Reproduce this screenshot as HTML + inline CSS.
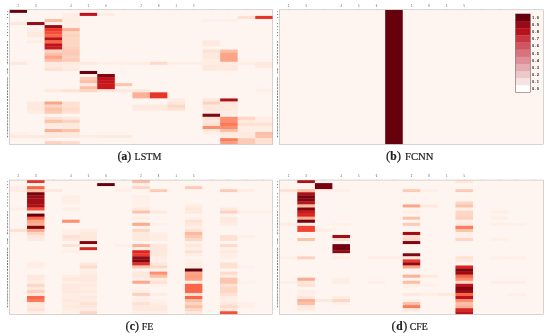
<!DOCTYPE html><html><head><meta charset="utf-8"><title>Heatmaps</title><style>html,body{margin:0;padding:0;background:#fff}svg{display:block}text{font-family:"Liberation Sans",sans-serif}.cap{font-family:"Liberation Serif",serif;font-size:11.5px;fill:#1c1c1c;stroke:#1c1c1c;stroke-width:0.2px}.cs{font-size:9.6px}.pp{font-size:12.8px}.bl{font-weight:bold;font-size:11.5px}.tk{font-size:2.7px;fill:#555}.tl{font-size:2.1px;fill:#222;font-weight:bold}</style></head><body>
<svg width="550" height="336" viewBox="0 0 550 336">
<rect width="550" height="336" fill="#fff"/>
<defs><clipPath id="cla"><rect x="9.5" y="9.8" width="263.30" height="134.50"/></clipPath></defs>
<g clip-path="url(#cla)">
<rect x="9.5" y="9.8" width="263.30" height="134.50" fill="#fff2eb"/>
<rect x="9.50" y="9.80" width="17.85" height="3.36" fill="#67000d"/>
<rect x="9.50" y="12.86" width="17.85" height="9.47" fill="#fff5f0"/>
<rect x="9.50" y="22.03" width="17.85" height="3.36" fill="#fee7dc"/>
<rect x="9.50" y="25.08" width="17.85" height="36.98" fill="#fff5f0"/>
<rect x="9.50" y="61.77" width="17.85" height="3.36" fill="#fee7dc"/>
<rect x="9.50" y="64.82" width="17.85" height="67.55" fill="#fff5f0"/>
<rect x="9.50" y="132.07" width="17.85" height="3.36" fill="#ffefe8"/>
<rect x="9.50" y="135.13" width="17.85" height="3.36" fill="#fee9df"/>
<rect x="9.50" y="138.19" width="17.85" height="6.41" fill="#fff5f0"/>
<rect x="27.05" y="9.80" width="17.85" height="12.53" fill="#fff5f0"/>
<rect x="27.05" y="22.03" width="17.85" height="3.36" fill="#990c13"/>
<rect x="27.05" y="25.08" width="17.85" height="3.36" fill="#fff5f0"/>
<rect x="27.05" y="28.14" width="17.85" height="3.36" fill="#ffefe8"/>
<rect x="27.05" y="31.20" width="17.85" height="6.41" fill="#fee9df"/>
<rect x="27.05" y="37.31" width="17.85" height="3.36" fill="#fff5f0"/>
<rect x="27.05" y="40.37" width="17.85" height="3.36" fill="#ffede4"/>
<rect x="27.05" y="43.42" width="17.85" height="58.38" fill="#fff5f0"/>
<rect x="27.05" y="101.50" width="17.85" height="9.47" fill="#fee9df"/>
<rect x="27.05" y="110.67" width="17.85" height="3.36" fill="#ffece3"/>
<rect x="27.05" y="113.73" width="17.85" height="21.70" fill="#fff5f0"/>
<rect x="27.05" y="135.13" width="17.85" height="3.36" fill="#fee9df"/>
<rect x="27.05" y="138.19" width="17.85" height="6.41" fill="#fff5f0"/>
<rect x="44.61" y="9.80" width="17.85" height="9.47" fill="#fff5f0"/>
<rect x="44.61" y="18.97" width="17.85" height="3.36" fill="#fcbea5"/>
<rect x="44.61" y="22.03" width="17.85" height="3.36" fill="#fff5f0"/>
<rect x="44.61" y="25.08" width="17.85" height="3.36" fill="#990c13"/>
<rect x="44.61" y="28.14" width="17.85" height="3.36" fill="#ec382b"/>
<rect x="44.61" y="31.20" width="17.85" height="3.36" fill="#f44f38"/>
<rect x="44.61" y="34.25" width="17.85" height="3.36" fill="#fa6648"/>
<rect x="44.61" y="37.31" width="17.85" height="3.36" fill="#bc141a"/>
<rect x="44.61" y="40.37" width="17.85" height="3.36" fill="#fa6648"/>
<rect x="44.61" y="43.42" width="17.85" height="3.36" fill="#bc141a"/>
<rect x="44.61" y="46.48" width="17.85" height="3.36" fill="#cb181d"/>
<rect x="44.61" y="49.54" width="17.85" height="3.36" fill="#fdd6c4"/>
<rect x="44.61" y="52.60" width="17.85" height="3.36" fill="#fcbea5"/>
<rect x="44.61" y="55.65" width="17.85" height="3.36" fill="#fca487"/>
<rect x="44.61" y="58.71" width="17.85" height="3.36" fill="#fcbea5"/>
<rect x="44.61" y="61.77" width="17.85" height="3.36" fill="#fee9df"/>
<rect x="44.61" y="64.82" width="17.85" height="3.36" fill="#fee7dc"/>
<rect x="44.61" y="67.88" width="17.85" height="3.36" fill="#fee1d3"/>
<rect x="44.61" y="70.94" width="17.85" height="18.64" fill="#fff5f0"/>
<rect x="44.61" y="89.28" width="17.85" height="3.36" fill="#fee9df"/>
<rect x="44.61" y="92.33" width="17.85" height="9.47" fill="#fff5f0"/>
<rect x="44.61" y="101.50" width="17.85" height="3.36" fill="#fca487"/>
<rect x="44.61" y="104.56" width="17.85" height="3.36" fill="#fdd6c4"/>
<rect x="44.61" y="107.62" width="17.85" height="3.36" fill="#fcc3ab"/>
<rect x="44.61" y="110.67" width="17.85" height="3.36" fill="#fdcab5"/>
<rect x="44.61" y="113.73" width="17.85" height="3.36" fill="#fff5f0"/>
<rect x="44.61" y="116.79" width="17.85" height="3.36" fill="#fee1d3"/>
<rect x="44.61" y="119.85" width="17.85" height="3.36" fill="#fcc3ab"/>
<rect x="44.61" y="122.90" width="17.85" height="3.36" fill="#fee9df"/>
<rect x="44.61" y="125.96" width="17.85" height="3.36" fill="#ffece3"/>
<rect x="44.61" y="129.02" width="17.85" height="3.36" fill="#fcb196"/>
<rect x="44.61" y="132.07" width="17.85" height="3.36" fill="#fee9df"/>
<rect x="44.61" y="135.13" width="17.85" height="3.36" fill="#fee7dc"/>
<rect x="44.61" y="138.19" width="17.85" height="3.36" fill="#fff5f0"/>
<rect x="44.61" y="141.24" width="17.85" height="3.36" fill="#fdd1be"/>
<rect x="62.16" y="9.80" width="17.85" height="3.36" fill="#fff5f0"/>
<rect x="62.16" y="12.86" width="17.85" height="6.41" fill="#ffeee6"/>
<rect x="62.16" y="18.97" width="17.85" height="3.36" fill="#ffede4"/>
<rect x="62.16" y="22.03" width="17.85" height="3.36" fill="#ffefe8"/>
<rect x="62.16" y="25.08" width="17.85" height="3.36" fill="#ffece3"/>
<rect x="62.16" y="28.14" width="17.85" height="3.36" fill="#fcb196"/>
<rect x="62.16" y="31.20" width="17.85" height="3.36" fill="#fdd6c4"/>
<rect x="62.16" y="34.25" width="17.85" height="3.36" fill="#fdd1be"/>
<rect x="62.16" y="37.31" width="17.85" height="9.47" fill="#fdd6c4"/>
<rect x="62.16" y="46.48" width="17.85" height="3.36" fill="#fdd1be"/>
<rect x="62.16" y="49.54" width="17.85" height="6.41" fill="#fdcab5"/>
<rect x="62.16" y="55.65" width="17.85" height="3.36" fill="#fdd1be"/>
<rect x="62.16" y="58.71" width="17.85" height="3.36" fill="#fdcab5"/>
<rect x="62.16" y="61.77" width="17.85" height="3.36" fill="#fee9df"/>
<rect x="62.16" y="64.82" width="17.85" height="3.36" fill="#ffece3"/>
<rect x="62.16" y="67.88" width="17.85" height="3.36" fill="#fee9df"/>
<rect x="62.16" y="70.94" width="17.85" height="18.64" fill="#fff5f0"/>
<rect x="62.16" y="89.28" width="17.85" height="3.36" fill="#fee1d3"/>
<rect x="62.16" y="92.33" width="17.85" height="9.47" fill="#fff5f0"/>
<rect x="62.16" y="101.50" width="17.85" height="6.41" fill="#fee1d3"/>
<rect x="62.16" y="107.62" width="17.85" height="3.36" fill="#fedacb"/>
<rect x="62.16" y="110.67" width="17.85" height="3.36" fill="#fee1d3"/>
<rect x="62.16" y="113.73" width="17.85" height="3.36" fill="#fff5f0"/>
<rect x="62.16" y="116.79" width="17.85" height="3.36" fill="#fee7dc"/>
<rect x="62.16" y="119.85" width="17.85" height="3.36" fill="#fdd1be"/>
<rect x="62.16" y="122.90" width="17.85" height="3.36" fill="#fee7dc"/>
<rect x="62.16" y="125.96" width="17.85" height="3.36" fill="#fee9df"/>
<rect x="62.16" y="129.02" width="17.85" height="3.36" fill="#fcc3ab"/>
<rect x="62.16" y="132.07" width="17.85" height="6.41" fill="#fee9df"/>
<rect x="62.16" y="138.19" width="17.85" height="3.36" fill="#fff5f0"/>
<rect x="62.16" y="141.24" width="17.85" height="3.36" fill="#fedacb"/>
<rect x="79.71" y="9.80" width="17.85" height="3.36" fill="#fff5f0"/>
<rect x="79.71" y="12.86" width="17.85" height="3.36" fill="#bc141a"/>
<rect x="79.71" y="15.91" width="17.85" height="46.15" fill="#fff5f0"/>
<rect x="79.71" y="61.77" width="17.85" height="3.36" fill="#fee9df"/>
<rect x="79.71" y="64.82" width="17.85" height="6.41" fill="#fff5f0"/>
<rect x="79.71" y="70.94" width="17.85" height="3.36" fill="#67000d"/>
<rect x="79.71" y="73.99" width="17.85" height="3.36" fill="#ffefe8"/>
<rect x="79.71" y="77.05" width="17.85" height="3.36" fill="#fdcab5"/>
<rect x="79.71" y="80.11" width="17.85" height="3.36" fill="#fcbea5"/>
<rect x="79.71" y="83.16" width="17.85" height="3.36" fill="#fee9df"/>
<rect x="79.71" y="86.22" width="17.85" height="3.36" fill="#fcbea5"/>
<rect x="79.71" y="89.28" width="17.85" height="3.36" fill="#fdd6c4"/>
<rect x="79.71" y="92.33" width="17.85" height="43.10" fill="#fff5f0"/>
<rect x="79.71" y="135.13" width="17.85" height="3.36" fill="#ffece3"/>
<rect x="79.71" y="138.19" width="17.85" height="6.41" fill="#fff5f0"/>
<rect x="97.27" y="9.80" width="17.85" height="3.36" fill="#fff5f0"/>
<rect x="97.27" y="12.86" width="17.85" height="3.36" fill="#ffece3"/>
<rect x="97.27" y="15.91" width="17.85" height="46.15" fill="#fff5f0"/>
<rect x="97.27" y="61.77" width="17.85" height="3.36" fill="#ffeee6"/>
<rect x="97.27" y="64.82" width="17.85" height="9.47" fill="#fff5f0"/>
<rect x="97.27" y="73.99" width="17.85" height="3.36" fill="#800610"/>
<rect x="97.27" y="77.05" width="17.85" height="3.36" fill="#bc141a"/>
<rect x="97.27" y="80.11" width="17.85" height="3.36" fill="#c2161b"/>
<rect x="97.27" y="83.16" width="17.85" height="6.41" fill="#cb181d"/>
<rect x="97.27" y="89.28" width="17.85" height="3.36" fill="#fee7dc"/>
<rect x="97.27" y="92.33" width="17.85" height="43.10" fill="#fff5f0"/>
<rect x="97.27" y="135.13" width="17.85" height="3.36" fill="#fee9df"/>
<rect x="97.27" y="138.19" width="17.85" height="6.41" fill="#fff5f0"/>
<rect x="114.82" y="9.80" width="17.85" height="52.27" fill="#fff5f0"/>
<rect x="114.82" y="61.77" width="17.85" height="3.36" fill="#ffeee6"/>
<rect x="114.82" y="64.82" width="17.85" height="18.64" fill="#fff5f0"/>
<rect x="114.82" y="83.16" width="17.85" height="3.36" fill="#fdc5ae"/>
<rect x="114.82" y="86.22" width="17.85" height="3.36" fill="#fff5f0"/>
<rect x="114.82" y="89.28" width="17.85" height="3.36" fill="#fee7dc"/>
<rect x="114.82" y="92.33" width="17.85" height="43.10" fill="#fff5f0"/>
<rect x="114.82" y="135.13" width="17.85" height="3.36" fill="#fee9df"/>
<rect x="114.82" y="138.19" width="17.85" height="6.41" fill="#fff5f0"/>
<rect x="132.37" y="9.80" width="17.85" height="52.27" fill="#fff5f0"/>
<rect x="132.37" y="61.77" width="17.85" height="3.36" fill="#ffece3"/>
<rect x="132.37" y="64.82" width="17.85" height="24.75" fill="#fff5f0"/>
<rect x="132.37" y="89.28" width="17.85" height="3.36" fill="#fee7dc"/>
<rect x="132.37" y="92.33" width="17.85" height="6.41" fill="#fcb196"/>
<rect x="132.37" y="98.45" width="17.85" height="6.41" fill="#fff5f0"/>
<rect x="132.37" y="104.56" width="17.85" height="6.41" fill="#fee9df"/>
<rect x="132.37" y="110.67" width="17.85" height="33.92" fill="#fff5f0"/>
<rect x="149.93" y="9.80" width="17.85" height="52.27" fill="#fff5f0"/>
<rect x="149.93" y="61.77" width="17.85" height="3.36" fill="#fedacb"/>
<rect x="149.93" y="64.82" width="17.85" height="27.81" fill="#fff5f0"/>
<rect x="149.93" y="92.33" width="17.85" height="6.41" fill="#e83429"/>
<rect x="149.93" y="98.45" width="17.85" height="6.41" fill="#fff5f0"/>
<rect x="149.93" y="104.56" width="17.85" height="6.41" fill="#fee9df"/>
<rect x="149.93" y="110.67" width="17.85" height="33.92" fill="#fff5f0"/>
<rect x="167.48" y="9.80" width="17.85" height="52.27" fill="#fff5f0"/>
<rect x="167.48" y="61.77" width="17.85" height="3.36" fill="#ffeee6"/>
<rect x="167.48" y="64.82" width="17.85" height="33.92" fill="#fff5f0"/>
<rect x="167.48" y="98.45" width="17.85" height="3.36" fill="#ffece3"/>
<rect x="167.48" y="101.50" width="17.85" height="3.36" fill="#fee7dc"/>
<rect x="167.48" y="104.56" width="17.85" height="3.36" fill="#fdd6c4"/>
<rect x="167.48" y="107.62" width="17.85" height="3.36" fill="#fee1d3"/>
<rect x="167.48" y="110.67" width="17.85" height="33.92" fill="#fff5f0"/>
<rect x="185.03" y="9.80" width="17.85" height="52.27" fill="#fff5f0"/>
<rect x="185.03" y="61.77" width="17.85" height="3.36" fill="#ffeee6"/>
<rect x="185.03" y="64.82" width="17.85" height="79.78" fill="#fff5f0"/>
<rect x="202.59" y="9.80" width="17.85" height="9.47" fill="#fff5f0"/>
<rect x="202.59" y="18.97" width="17.85" height="3.36" fill="#ffefe8"/>
<rect x="202.59" y="22.03" width="17.85" height="18.64" fill="#fff5f0"/>
<rect x="202.59" y="40.37" width="17.85" height="6.41" fill="#fee9df"/>
<rect x="202.59" y="46.48" width="17.85" height="3.36" fill="#fff5f0"/>
<rect x="202.59" y="49.54" width="17.85" height="3.36" fill="#fee1d3"/>
<rect x="202.59" y="52.60" width="17.85" height="3.36" fill="#fee9df"/>
<rect x="202.59" y="55.65" width="17.85" height="3.36" fill="#fee7dc"/>
<rect x="202.59" y="58.71" width="17.85" height="6.41" fill="#ffece3"/>
<rect x="202.59" y="64.82" width="17.85" height="3.36" fill="#fee7dc"/>
<rect x="202.59" y="67.88" width="17.85" height="3.36" fill="#fee9df"/>
<rect x="202.59" y="70.94" width="17.85" height="27.81" fill="#fff5f0"/>
<rect x="202.59" y="98.45" width="17.85" height="3.36" fill="#fee7dc"/>
<rect x="202.59" y="101.50" width="17.85" height="3.36" fill="#fdd1be"/>
<rect x="202.59" y="104.56" width="17.85" height="6.41" fill="#fee7dc"/>
<rect x="202.59" y="110.67" width="17.85" height="3.36" fill="#ffece3"/>
<rect x="202.59" y="113.73" width="17.85" height="3.36" fill="#800610"/>
<rect x="202.59" y="116.79" width="17.85" height="3.36" fill="#fee1d3"/>
<rect x="202.59" y="119.85" width="17.85" height="3.36" fill="#fee7dc"/>
<rect x="202.59" y="122.90" width="17.85" height="3.36" fill="#fee1d3"/>
<rect x="202.59" y="125.96" width="17.85" height="3.36" fill="#fc8f6f"/>
<rect x="202.59" y="129.02" width="17.85" height="3.36" fill="#fee9df"/>
<rect x="202.59" y="132.07" width="17.85" height="3.36" fill="#ffefe8"/>
<rect x="202.59" y="135.13" width="17.85" height="9.47" fill="#fff5f0"/>
<rect x="220.14" y="9.80" width="17.85" height="9.47" fill="#fff5f0"/>
<rect x="220.14" y="18.97" width="17.85" height="3.36" fill="#ffefe8"/>
<rect x="220.14" y="22.03" width="17.85" height="27.81" fill="#fff5f0"/>
<rect x="220.14" y="49.54" width="17.85" height="3.36" fill="#fcbea5"/>
<rect x="220.14" y="52.60" width="17.85" height="9.47" fill="#fca487"/>
<rect x="220.14" y="61.77" width="17.85" height="3.36" fill="#ffece3"/>
<rect x="220.14" y="64.82" width="17.85" height="6.41" fill="#fee9df"/>
<rect x="220.14" y="70.94" width="17.85" height="27.81" fill="#fff5f0"/>
<rect x="220.14" y="98.45" width="17.85" height="3.36" fill="#ad1117"/>
<rect x="220.14" y="101.50" width="17.85" height="6.41" fill="#fee7dc"/>
<rect x="220.14" y="107.62" width="17.85" height="3.36" fill="#fee9df"/>
<rect x="220.14" y="110.67" width="17.85" height="3.36" fill="#ffece3"/>
<rect x="220.14" y="113.73" width="17.85" height="3.36" fill="#ffefe8"/>
<rect x="220.14" y="116.79" width="17.85" height="6.41" fill="#fc8f6f"/>
<rect x="220.14" y="122.90" width="17.85" height="3.36" fill="#fb7b5b"/>
<rect x="220.14" y="125.96" width="17.85" height="3.36" fill="#fc8f6f"/>
<rect x="220.14" y="129.02" width="17.85" height="3.36" fill="#fcbea5"/>
<rect x="220.14" y="132.07" width="17.85" height="3.36" fill="#fee9df"/>
<rect x="220.14" y="135.13" width="17.85" height="3.36" fill="#ffece3"/>
<rect x="220.14" y="138.19" width="17.85" height="3.36" fill="#fb7b5b"/>
<rect x="220.14" y="141.24" width="17.85" height="3.36" fill="#fc9c7d"/>
<rect x="237.69" y="9.80" width="17.85" height="6.41" fill="#fff5f0"/>
<rect x="237.69" y="15.91" width="17.85" height="3.36" fill="#fee1d3"/>
<rect x="237.69" y="18.97" width="17.85" height="43.10" fill="#fff5f0"/>
<rect x="237.69" y="61.77" width="17.85" height="3.36" fill="#ffece3"/>
<rect x="237.69" y="64.82" width="17.85" height="52.27" fill="#fff5f0"/>
<rect x="237.69" y="116.79" width="17.85" height="3.36" fill="#fdd6c4"/>
<rect x="237.69" y="119.85" width="17.85" height="3.36" fill="#fee9df"/>
<rect x="237.69" y="122.90" width="17.85" height="3.36" fill="#fee1d3"/>
<rect x="237.69" y="125.96" width="17.85" height="6.41" fill="#ffece3"/>
<rect x="237.69" y="132.07" width="17.85" height="6.41" fill="#fee9df"/>
<rect x="237.69" y="138.19" width="17.85" height="6.41" fill="#fdcab5"/>
<rect x="255.25" y="9.80" width="17.85" height="6.41" fill="#fff5f0"/>
<rect x="255.25" y="15.91" width="17.85" height="3.36" fill="#e83429"/>
<rect x="255.25" y="18.97" width="17.85" height="43.10" fill="#fff5f0"/>
<rect x="255.25" y="61.77" width="17.85" height="3.36" fill="#fee7dc"/>
<rect x="255.25" y="64.82" width="17.85" height="3.36" fill="#fee9df"/>
<rect x="255.25" y="67.88" width="17.85" height="21.70" fill="#fff5f0"/>
<rect x="255.25" y="89.28" width="17.85" height="3.36" fill="#ffeee6"/>
<rect x="255.25" y="92.33" width="17.85" height="24.75" fill="#fff5f0"/>
<rect x="255.25" y="116.79" width="17.85" height="3.36" fill="#ffece3"/>
<rect x="255.25" y="119.85" width="17.85" height="3.36" fill="#ffeee6"/>
<rect x="255.25" y="122.90" width="17.85" height="3.36" fill="#fee1d3"/>
<rect x="255.25" y="125.96" width="17.85" height="3.36" fill="#ffece3"/>
<rect x="255.25" y="129.02" width="17.85" height="3.36" fill="#ffeee6"/>
<rect x="255.25" y="132.07" width="17.85" height="3.36" fill="#fcbea5"/>
<rect x="255.25" y="135.13" width="17.85" height="3.36" fill="#fcc3ab"/>
<rect x="255.25" y="138.19" width="17.85" height="6.41" fill="#fee1d3"/>
</g>
<rect x="9.5" y="9.8" width="263.30" height="134.50" fill="none" stroke="#a4a4a4" stroke-width="0.45"/>
<line x1="18.28" y1="9.00" x2="18.28" y2="9.80" stroke="#999" stroke-width="0.3"/>
<text class="tk" x="18.28" y="6.80" text-anchor="middle">2</text>
<line x1="35.83" y1="9.00" x2="35.83" y2="9.80" stroke="#999" stroke-width="0.3"/>
<text class="tk" x="35.83" y="6.80" text-anchor="middle">3</text>
<line x1="53.38" y1="9.00" x2="53.38" y2="9.80" stroke="#999" stroke-width="0.3"/>
<line x1="70.94" y1="9.00" x2="70.94" y2="9.80" stroke="#999" stroke-width="0.3"/>
<text class="tk" x="70.94" y="6.80" text-anchor="middle">4</text>
<line x1="88.49" y1="9.00" x2="88.49" y2="9.80" stroke="#999" stroke-width="0.3"/>
<text class="tk" x="88.49" y="6.80" text-anchor="middle">5</text>
<line x1="106.04" y1="9.00" x2="106.04" y2="9.80" stroke="#999" stroke-width="0.3"/>
<text class="tk" x="106.04" y="6.80" text-anchor="middle">6</text>
<line x1="123.60" y1="9.00" x2="123.60" y2="9.80" stroke="#999" stroke-width="0.3"/>
<line x1="141.15" y1="9.00" x2="141.15" y2="9.80" stroke="#999" stroke-width="0.3"/>
<text class="tk" x="141.15" y="6.80" text-anchor="middle">2</text>
<line x1="158.70" y1="9.00" x2="158.70" y2="9.80" stroke="#999" stroke-width="0.3"/>
<text class="tk" x="158.70" y="6.80" text-anchor="middle">8</text>
<line x1="176.26" y1="9.00" x2="176.26" y2="9.80" stroke="#999" stroke-width="0.3"/>
<text class="tk" x="176.26" y="6.80" text-anchor="middle">1</text>
<line x1="193.81" y1="9.00" x2="193.81" y2="9.80" stroke="#999" stroke-width="0.3"/>
<text class="tk" x="193.81" y="6.80" text-anchor="middle">5</text>
<line x1="211.36" y1="9.00" x2="211.36" y2="9.80" stroke="#999" stroke-width="0.3"/>
<line x1="228.92" y1="9.00" x2="228.92" y2="9.80" stroke="#999" stroke-width="0.3"/>
<line x1="246.47" y1="9.00" x2="246.47" y2="9.80" stroke="#999" stroke-width="0.3"/>
<line x1="264.02" y1="9.00" x2="264.02" y2="9.80" stroke="#999" stroke-width="0.3"/>
<line x1="8.70" y1="11.33" x2="9.50" y2="11.33" stroke="#999" stroke-width="0.3"/>
<text class="tl" transform="translate(7.00,11.33) rotate(-90)" text-anchor="middle" dy="0.65">1</text>
<line x1="8.70" y1="14.39" x2="9.50" y2="14.39" stroke="#999" stroke-width="0.3"/>
<text class="tl" transform="translate(7.00,14.39) rotate(-90)" text-anchor="middle" dy="0.65">2</text>
<line x1="8.70" y1="17.44" x2="9.50" y2="17.44" stroke="#999" stroke-width="0.3"/>
<text class="tl" transform="translate(7.00,17.44) rotate(-90)" text-anchor="middle" dy="0.65">3</text>
<line x1="8.70" y1="20.50" x2="9.50" y2="20.50" stroke="#999" stroke-width="0.3"/>
<line x1="8.70" y1="23.56" x2="9.50" y2="23.56" stroke="#999" stroke-width="0.3"/>
<text class="tl" transform="translate(7.00,23.56) rotate(-90)" text-anchor="middle" dy="0.65">5</text>
<line x1="8.70" y1="26.61" x2="9.50" y2="26.61" stroke="#999" stroke-width="0.3"/>
<text class="tl" transform="translate(7.00,26.61) rotate(-90)" text-anchor="middle" dy="0.65">6</text>
<line x1="8.70" y1="29.67" x2="9.50" y2="29.67" stroke="#999" stroke-width="0.3"/>
<text class="tl" transform="translate(7.00,29.67) rotate(-90)" text-anchor="middle" dy="0.65">7</text>
<line x1="8.70" y1="32.73" x2="9.50" y2="32.73" stroke="#999" stroke-width="0.3"/>
<text class="tl" transform="translate(7.00,32.73) rotate(-90)" text-anchor="middle" dy="0.65">8</text>
<line x1="8.70" y1="35.78" x2="9.50" y2="35.78" stroke="#999" stroke-width="0.3"/>
<text class="tl" transform="translate(7.00,35.78) rotate(-90)" text-anchor="middle" dy="0.65">9</text>
<line x1="8.70" y1="38.84" x2="9.50" y2="38.84" stroke="#999" stroke-width="0.3"/>
<line x1="8.70" y1="41.90" x2="9.50" y2="41.90" stroke="#999" stroke-width="0.3"/>
<text class="tl" transform="translate(7.00,41.90) rotate(-90)" text-anchor="middle" dy="0.65">11</text>
<line x1="8.70" y1="44.95" x2="9.50" y2="44.95" stroke="#999" stroke-width="0.3"/>
<text class="tl" transform="translate(7.00,44.95) rotate(-90)" text-anchor="middle" dy="0.65">12</text>
<line x1="8.70" y1="48.01" x2="9.50" y2="48.01" stroke="#999" stroke-width="0.3"/>
<text class="tl" transform="translate(7.00,48.01) rotate(-90)" text-anchor="middle" dy="0.65">13</text>
<line x1="8.70" y1="51.07" x2="9.50" y2="51.07" stroke="#999" stroke-width="0.3"/>
<text class="tl" transform="translate(7.00,51.07) rotate(-90)" text-anchor="middle" dy="0.65">14</text>
<line x1="8.70" y1="54.12" x2="9.50" y2="54.12" stroke="#999" stroke-width="0.3"/>
<text class="tl" transform="translate(7.00,54.12) rotate(-90)" text-anchor="middle" dy="0.65">15</text>
<line x1="8.70" y1="57.18" x2="9.50" y2="57.18" stroke="#999" stroke-width="0.3"/>
<text class="tl" transform="translate(7.00,57.18) rotate(-90)" text-anchor="middle" dy="0.65">16</text>
<line x1="8.70" y1="60.24" x2="9.50" y2="60.24" stroke="#999" stroke-width="0.3"/>
<text class="tl" transform="translate(7.00,60.24) rotate(-90)" text-anchor="middle" dy="0.65">17</text>
<line x1="8.70" y1="63.29" x2="9.50" y2="63.29" stroke="#999" stroke-width="0.3"/>
<text class="tl" transform="translate(7.00,63.29) rotate(-90)" text-anchor="middle" dy="0.65">18</text>
<line x1="8.70" y1="66.35" x2="9.50" y2="66.35" stroke="#999" stroke-width="0.3"/>
<line x1="8.70" y1="69.41" x2="9.50" y2="69.41" stroke="#999" stroke-width="0.3"/>
<text class="tl" transform="translate(7.00,69.41) rotate(-90)" text-anchor="middle" dy="0.65">20</text>
<line x1="8.70" y1="72.46" x2="9.50" y2="72.46" stroke="#999" stroke-width="0.3"/>
<text class="tl" transform="translate(7.00,72.46) rotate(-90)" text-anchor="middle" dy="0.65">21</text>
<line x1="8.70" y1="75.52" x2="9.50" y2="75.52" stroke="#999" stroke-width="0.3"/>
<line x1="8.70" y1="78.58" x2="9.50" y2="78.58" stroke="#999" stroke-width="0.3"/>
<text class="tl" transform="translate(7.00,78.58) rotate(-90)" text-anchor="middle" dy="0.65">23</text>
<line x1="8.70" y1="81.64" x2="9.50" y2="81.64" stroke="#999" stroke-width="0.3"/>
<text class="tl" transform="translate(7.00,81.64) rotate(-90)" text-anchor="middle" dy="0.65">24</text>
<line x1="8.70" y1="84.69" x2="9.50" y2="84.69" stroke="#999" stroke-width="0.3"/>
<text class="tl" transform="translate(7.00,84.69) rotate(-90)" text-anchor="middle" dy="0.65">25</text>
<line x1="8.70" y1="87.75" x2="9.50" y2="87.75" stroke="#999" stroke-width="0.3"/>
<text class="tl" transform="translate(7.00,87.75) rotate(-90)" text-anchor="middle" dy="0.65">26</text>
<line x1="8.70" y1="90.81" x2="9.50" y2="90.81" stroke="#999" stroke-width="0.3"/>
<text class="tl" transform="translate(7.00,90.81) rotate(-90)" text-anchor="middle" dy="0.65">27</text>
<line x1="8.70" y1="93.86" x2="9.50" y2="93.86" stroke="#999" stroke-width="0.3"/>
<text class="tl" transform="translate(7.00,93.86) rotate(-90)" text-anchor="middle" dy="0.65">28</text>
<line x1="8.70" y1="96.92" x2="9.50" y2="96.92" stroke="#999" stroke-width="0.3"/>
<text class="tl" transform="translate(7.00,96.92) rotate(-90)" text-anchor="middle" dy="0.65">29</text>
<line x1="8.70" y1="99.98" x2="9.50" y2="99.98" stroke="#999" stroke-width="0.3"/>
<text class="tl" transform="translate(7.00,99.98) rotate(-90)" text-anchor="middle" dy="0.65">30</text>
<line x1="8.70" y1="103.03" x2="9.50" y2="103.03" stroke="#999" stroke-width="0.3"/>
<text class="tl" transform="translate(7.00,103.03) rotate(-90)" text-anchor="middle" dy="0.65">31</text>
<line x1="8.70" y1="106.09" x2="9.50" y2="106.09" stroke="#999" stroke-width="0.3"/>
<text class="tl" transform="translate(7.00,106.09) rotate(-90)" text-anchor="middle" dy="0.65">32</text>
<line x1="8.70" y1="109.15" x2="9.50" y2="109.15" stroke="#999" stroke-width="0.3"/>
<text class="tl" transform="translate(7.00,109.15) rotate(-90)" text-anchor="middle" dy="0.65">33</text>
<line x1="8.70" y1="112.20" x2="9.50" y2="112.20" stroke="#999" stroke-width="0.3"/>
<text class="tl" transform="translate(7.00,112.20) rotate(-90)" text-anchor="middle" dy="0.65">34</text>
<line x1="8.70" y1="115.26" x2="9.50" y2="115.26" stroke="#999" stroke-width="0.3"/>
<text class="tl" transform="translate(7.00,115.26) rotate(-90)" text-anchor="middle" dy="0.65">35</text>
<line x1="8.70" y1="118.32" x2="9.50" y2="118.32" stroke="#999" stroke-width="0.3"/>
<text class="tl" transform="translate(7.00,118.32) rotate(-90)" text-anchor="middle" dy="0.65">36</text>
<line x1="8.70" y1="121.37" x2="9.50" y2="121.37" stroke="#999" stroke-width="0.3"/>
<text class="tl" transform="translate(7.00,121.37) rotate(-90)" text-anchor="middle" dy="0.65">37</text>
<line x1="8.70" y1="124.43" x2="9.50" y2="124.43" stroke="#999" stroke-width="0.3"/>
<text class="tl" transform="translate(7.00,124.43) rotate(-90)" text-anchor="middle" dy="0.65">38</text>
<line x1="8.70" y1="127.49" x2="9.50" y2="127.49" stroke="#999" stroke-width="0.3"/>
<text class="tl" transform="translate(7.00,127.49) rotate(-90)" text-anchor="middle" dy="0.65">39</text>
<line x1="8.70" y1="130.54" x2="9.50" y2="130.54" stroke="#999" stroke-width="0.3"/>
<text class="tl" transform="translate(7.00,130.54) rotate(-90)" text-anchor="middle" dy="0.65">40</text>
<line x1="8.70" y1="133.60" x2="9.50" y2="133.60" stroke="#999" stroke-width="0.3"/>
<text class="tl" transform="translate(7.00,133.60) rotate(-90)" text-anchor="middle" dy="0.65">41</text>
<line x1="8.70" y1="136.66" x2="9.50" y2="136.66" stroke="#999" stroke-width="0.3"/>
<text class="tl" transform="translate(7.00,136.66) rotate(-90)" text-anchor="middle" dy="0.65">42</text>
<line x1="8.70" y1="139.71" x2="9.50" y2="139.71" stroke="#999" stroke-width="0.3"/>
<line x1="8.70" y1="142.77" x2="9.50" y2="142.77" stroke="#999" stroke-width="0.3"/>
<defs><clipPath id="clb"><rect x="279.75" y="9.8" width="263.60" height="134.50"/></clipPath></defs>
<g clip-path="url(#clb)">
<rect x="279.75" y="9.8" width="263.60" height="134.50" fill="#fff2eb"/>
<rect x="279.75" y="9.80" width="17.87" height="134.80" fill="#fff5f0"/>
<rect x="297.32" y="9.80" width="17.87" height="134.80" fill="#fff5f0"/>
<rect x="314.90" y="9.80" width="17.87" height="134.80" fill="#fff5f0"/>
<rect x="332.47" y="9.80" width="17.87" height="134.80" fill="#fff5f0"/>
<rect x="350.04" y="9.80" width="17.87" height="134.80" fill="#fff5f0"/>
<rect x="367.62" y="9.80" width="17.87" height="134.80" fill="#fff5f0"/>
<rect x="385.19" y="9.80" width="17.87" height="134.80" fill="#67000d"/>
<rect x="402.76" y="9.80" width="17.87" height="134.80" fill="#fff5f0"/>
<rect x="420.34" y="9.80" width="17.87" height="134.80" fill="#fff5f0"/>
<rect x="437.91" y="9.80" width="17.87" height="134.80" fill="#fff5f0"/>
<rect x="455.48" y="9.80" width="17.87" height="134.80" fill="#fff5f0"/>
<rect x="473.06" y="9.80" width="17.87" height="134.80" fill="#fff5f0"/>
<rect x="490.63" y="9.80" width="17.87" height="134.80" fill="#fff5f0"/>
<rect x="508.20" y="9.80" width="17.87" height="134.80" fill="#fff5f0"/>
<rect x="525.78" y="9.80" width="17.87" height="134.80" fill="#fff5f0"/>
</g>
<rect x="279.75" y="9.8" width="263.60" height="134.50" fill="none" stroke="#a4a4a4" stroke-width="0.45"/>
<line x1="288.54" y1="9.00" x2="288.54" y2="9.80" stroke="#999" stroke-width="0.3"/>
<text class="tk" x="288.54" y="6.80" text-anchor="middle">2</text>
<line x1="306.11" y1="9.00" x2="306.11" y2="9.80" stroke="#999" stroke-width="0.3"/>
<text class="tk" x="306.11" y="6.80" text-anchor="middle">3</text>
<line x1="323.68" y1="9.00" x2="323.68" y2="9.80" stroke="#999" stroke-width="0.3"/>
<line x1="341.26" y1="9.00" x2="341.26" y2="9.80" stroke="#999" stroke-width="0.3"/>
<text class="tk" x="341.26" y="6.80" text-anchor="middle">4</text>
<line x1="358.83" y1="9.00" x2="358.83" y2="9.80" stroke="#999" stroke-width="0.3"/>
<text class="tk" x="358.83" y="6.80" text-anchor="middle">5</text>
<line x1="376.40" y1="9.00" x2="376.40" y2="9.80" stroke="#999" stroke-width="0.3"/>
<text class="tk" x="376.40" y="6.80" text-anchor="middle">6</text>
<line x1="393.98" y1="9.00" x2="393.98" y2="9.80" stroke="#999" stroke-width="0.3"/>
<line x1="411.55" y1="9.00" x2="411.55" y2="9.80" stroke="#999" stroke-width="0.3"/>
<text class="tk" x="411.55" y="6.80" text-anchor="middle">2</text>
<line x1="429.12" y1="9.00" x2="429.12" y2="9.80" stroke="#999" stroke-width="0.3"/>
<text class="tk" x="429.12" y="6.80" text-anchor="middle">8</text>
<line x1="446.70" y1="9.00" x2="446.70" y2="9.80" stroke="#999" stroke-width="0.3"/>
<text class="tk" x="446.70" y="6.80" text-anchor="middle">1</text>
<line x1="464.27" y1="9.00" x2="464.27" y2="9.80" stroke="#999" stroke-width="0.3"/>
<text class="tk" x="464.27" y="6.80" text-anchor="middle">5</text>
<line x1="481.84" y1="9.00" x2="481.84" y2="9.80" stroke="#999" stroke-width="0.3"/>
<line x1="499.42" y1="9.00" x2="499.42" y2="9.80" stroke="#999" stroke-width="0.3"/>
<line x1="516.99" y1="9.00" x2="516.99" y2="9.80" stroke="#999" stroke-width="0.3"/>
<line x1="534.56" y1="9.00" x2="534.56" y2="9.80" stroke="#999" stroke-width="0.3"/>
<line x1="278.95" y1="11.33" x2="279.75" y2="11.33" stroke="#999" stroke-width="0.3"/>
<text class="tl" transform="translate(277.25,11.33) rotate(-90)" text-anchor="middle" dy="0.65">1</text>
<line x1="278.95" y1="14.39" x2="279.75" y2="14.39" stroke="#999" stroke-width="0.3"/>
<text class="tl" transform="translate(277.25,14.39) rotate(-90)" text-anchor="middle" dy="0.65">2</text>
<line x1="278.95" y1="17.44" x2="279.75" y2="17.44" stroke="#999" stroke-width="0.3"/>
<text class="tl" transform="translate(277.25,17.44) rotate(-90)" text-anchor="middle" dy="0.65">3</text>
<line x1="278.95" y1="20.50" x2="279.75" y2="20.50" stroke="#999" stroke-width="0.3"/>
<line x1="278.95" y1="23.56" x2="279.75" y2="23.56" stroke="#999" stroke-width="0.3"/>
<text class="tl" transform="translate(277.25,23.56) rotate(-90)" text-anchor="middle" dy="0.65">5</text>
<line x1="278.95" y1="26.61" x2="279.75" y2="26.61" stroke="#999" stroke-width="0.3"/>
<text class="tl" transform="translate(277.25,26.61) rotate(-90)" text-anchor="middle" dy="0.65">6</text>
<line x1="278.95" y1="29.67" x2="279.75" y2="29.67" stroke="#999" stroke-width="0.3"/>
<text class="tl" transform="translate(277.25,29.67) rotate(-90)" text-anchor="middle" dy="0.65">7</text>
<line x1="278.95" y1="32.73" x2="279.75" y2="32.73" stroke="#999" stroke-width="0.3"/>
<text class="tl" transform="translate(277.25,32.73) rotate(-90)" text-anchor="middle" dy="0.65">8</text>
<line x1="278.95" y1="35.78" x2="279.75" y2="35.78" stroke="#999" stroke-width="0.3"/>
<text class="tl" transform="translate(277.25,35.78) rotate(-90)" text-anchor="middle" dy="0.65">9</text>
<line x1="278.95" y1="38.84" x2="279.75" y2="38.84" stroke="#999" stroke-width="0.3"/>
<line x1="278.95" y1="41.90" x2="279.75" y2="41.90" stroke="#999" stroke-width="0.3"/>
<text class="tl" transform="translate(277.25,41.90) rotate(-90)" text-anchor="middle" dy="0.65">11</text>
<line x1="278.95" y1="44.95" x2="279.75" y2="44.95" stroke="#999" stroke-width="0.3"/>
<text class="tl" transform="translate(277.25,44.95) rotate(-90)" text-anchor="middle" dy="0.65">12</text>
<line x1="278.95" y1="48.01" x2="279.75" y2="48.01" stroke="#999" stroke-width="0.3"/>
<text class="tl" transform="translate(277.25,48.01) rotate(-90)" text-anchor="middle" dy="0.65">13</text>
<line x1="278.95" y1="51.07" x2="279.75" y2="51.07" stroke="#999" stroke-width="0.3"/>
<text class="tl" transform="translate(277.25,51.07) rotate(-90)" text-anchor="middle" dy="0.65">14</text>
<line x1="278.95" y1="54.12" x2="279.75" y2="54.12" stroke="#999" stroke-width="0.3"/>
<text class="tl" transform="translate(277.25,54.12) rotate(-90)" text-anchor="middle" dy="0.65">15</text>
<line x1="278.95" y1="57.18" x2="279.75" y2="57.18" stroke="#999" stroke-width="0.3"/>
<text class="tl" transform="translate(277.25,57.18) rotate(-90)" text-anchor="middle" dy="0.65">16</text>
<line x1="278.95" y1="60.24" x2="279.75" y2="60.24" stroke="#999" stroke-width="0.3"/>
<text class="tl" transform="translate(277.25,60.24) rotate(-90)" text-anchor="middle" dy="0.65">17</text>
<line x1="278.95" y1="63.29" x2="279.75" y2="63.29" stroke="#999" stroke-width="0.3"/>
<text class="tl" transform="translate(277.25,63.29) rotate(-90)" text-anchor="middle" dy="0.65">18</text>
<line x1="278.95" y1="66.35" x2="279.75" y2="66.35" stroke="#999" stroke-width="0.3"/>
<line x1="278.95" y1="69.41" x2="279.75" y2="69.41" stroke="#999" stroke-width="0.3"/>
<text class="tl" transform="translate(277.25,69.41) rotate(-90)" text-anchor="middle" dy="0.65">20</text>
<line x1="278.95" y1="72.46" x2="279.75" y2="72.46" stroke="#999" stroke-width="0.3"/>
<text class="tl" transform="translate(277.25,72.46) rotate(-90)" text-anchor="middle" dy="0.65">21</text>
<line x1="278.95" y1="75.52" x2="279.75" y2="75.52" stroke="#999" stroke-width="0.3"/>
<line x1="278.95" y1="78.58" x2="279.75" y2="78.58" stroke="#999" stroke-width="0.3"/>
<text class="tl" transform="translate(277.25,78.58) rotate(-90)" text-anchor="middle" dy="0.65">23</text>
<line x1="278.95" y1="81.64" x2="279.75" y2="81.64" stroke="#999" stroke-width="0.3"/>
<text class="tl" transform="translate(277.25,81.64) rotate(-90)" text-anchor="middle" dy="0.65">24</text>
<line x1="278.95" y1="84.69" x2="279.75" y2="84.69" stroke="#999" stroke-width="0.3"/>
<text class="tl" transform="translate(277.25,84.69) rotate(-90)" text-anchor="middle" dy="0.65">25</text>
<line x1="278.95" y1="87.75" x2="279.75" y2="87.75" stroke="#999" stroke-width="0.3"/>
<text class="tl" transform="translate(277.25,87.75) rotate(-90)" text-anchor="middle" dy="0.65">26</text>
<line x1="278.95" y1="90.81" x2="279.75" y2="90.81" stroke="#999" stroke-width="0.3"/>
<text class="tl" transform="translate(277.25,90.81) rotate(-90)" text-anchor="middle" dy="0.65">27</text>
<line x1="278.95" y1="93.86" x2="279.75" y2="93.86" stroke="#999" stroke-width="0.3"/>
<text class="tl" transform="translate(277.25,93.86) rotate(-90)" text-anchor="middle" dy="0.65">28</text>
<line x1="278.95" y1="96.92" x2="279.75" y2="96.92" stroke="#999" stroke-width="0.3"/>
<text class="tl" transform="translate(277.25,96.92) rotate(-90)" text-anchor="middle" dy="0.65">29</text>
<line x1="278.95" y1="99.98" x2="279.75" y2="99.98" stroke="#999" stroke-width="0.3"/>
<text class="tl" transform="translate(277.25,99.98) rotate(-90)" text-anchor="middle" dy="0.65">30</text>
<line x1="278.95" y1="103.03" x2="279.75" y2="103.03" stroke="#999" stroke-width="0.3"/>
<text class="tl" transform="translate(277.25,103.03) rotate(-90)" text-anchor="middle" dy="0.65">31</text>
<line x1="278.95" y1="106.09" x2="279.75" y2="106.09" stroke="#999" stroke-width="0.3"/>
<text class="tl" transform="translate(277.25,106.09) rotate(-90)" text-anchor="middle" dy="0.65">32</text>
<line x1="278.95" y1="109.15" x2="279.75" y2="109.15" stroke="#999" stroke-width="0.3"/>
<text class="tl" transform="translate(277.25,109.15) rotate(-90)" text-anchor="middle" dy="0.65">33</text>
<line x1="278.95" y1="112.20" x2="279.75" y2="112.20" stroke="#999" stroke-width="0.3"/>
<text class="tl" transform="translate(277.25,112.20) rotate(-90)" text-anchor="middle" dy="0.65">34</text>
<line x1="278.95" y1="115.26" x2="279.75" y2="115.26" stroke="#999" stroke-width="0.3"/>
<text class="tl" transform="translate(277.25,115.26) rotate(-90)" text-anchor="middle" dy="0.65">35</text>
<line x1="278.95" y1="118.32" x2="279.75" y2="118.32" stroke="#999" stroke-width="0.3"/>
<text class="tl" transform="translate(277.25,118.32) rotate(-90)" text-anchor="middle" dy="0.65">36</text>
<line x1="278.95" y1="121.37" x2="279.75" y2="121.37" stroke="#999" stroke-width="0.3"/>
<text class="tl" transform="translate(277.25,121.37) rotate(-90)" text-anchor="middle" dy="0.65">37</text>
<line x1="278.95" y1="124.43" x2="279.75" y2="124.43" stroke="#999" stroke-width="0.3"/>
<text class="tl" transform="translate(277.25,124.43) rotate(-90)" text-anchor="middle" dy="0.65">38</text>
<line x1="278.95" y1="127.49" x2="279.75" y2="127.49" stroke="#999" stroke-width="0.3"/>
<text class="tl" transform="translate(277.25,127.49) rotate(-90)" text-anchor="middle" dy="0.65">39</text>
<line x1="278.95" y1="130.54" x2="279.75" y2="130.54" stroke="#999" stroke-width="0.3"/>
<text class="tl" transform="translate(277.25,130.54) rotate(-90)" text-anchor="middle" dy="0.65">40</text>
<line x1="278.95" y1="133.60" x2="279.75" y2="133.60" stroke="#999" stroke-width="0.3"/>
<text class="tl" transform="translate(277.25,133.60) rotate(-90)" text-anchor="middle" dy="0.65">41</text>
<line x1="278.95" y1="136.66" x2="279.75" y2="136.66" stroke="#999" stroke-width="0.3"/>
<text class="tl" transform="translate(277.25,136.66) rotate(-90)" text-anchor="middle" dy="0.65">42</text>
<line x1="278.95" y1="139.71" x2="279.75" y2="139.71" stroke="#999" stroke-width="0.3"/>
<line x1="278.95" y1="142.77" x2="279.75" y2="142.77" stroke="#999" stroke-width="0.3"/>
<defs><clipPath id="clc"><rect x="9.5" y="180.05" width="263.10" height="134.25"/></clipPath></defs>
<g clip-path="url(#clc)">
<rect x="9.5" y="180.05" width="263.10" height="134.25" fill="#fff2eb"/>
<rect x="9.50" y="180.05" width="17.84" height="6.40" fill="#fff5f0"/>
<rect x="9.50" y="186.15" width="17.84" height="3.35" fill="#ffeee6"/>
<rect x="9.50" y="189.20" width="17.84" height="3.35" fill="#ffece3"/>
<rect x="9.50" y="192.25" width="17.84" height="15.56" fill="#fff5f0"/>
<rect x="9.50" y="207.51" width="17.84" height="3.35" fill="#ffeee6"/>
<rect x="9.50" y="210.56" width="17.84" height="18.61" fill="#fff5f0"/>
<rect x="9.50" y="228.87" width="17.84" height="3.35" fill="#fee1d3"/>
<rect x="9.50" y="231.92" width="17.84" height="82.68" fill="#fff5f0"/>
<rect x="27.04" y="180.05" width="17.84" height="3.35" fill="#e83429"/>
<rect x="27.04" y="183.10" width="17.84" height="3.35" fill="#fff5f0"/>
<rect x="27.04" y="186.15" width="17.84" height="3.35" fill="#fa6648"/>
<rect x="27.04" y="189.20" width="17.84" height="3.35" fill="#fcbea5"/>
<rect x="27.04" y="192.25" width="17.84" height="3.35" fill="#76040f"/>
<rect x="27.04" y="195.31" width="17.84" height="3.35" fill="#990c13"/>
<rect x="27.04" y="198.36" width="17.84" height="6.40" fill="#a30e15"/>
<rect x="27.04" y="204.46" width="17.84" height="3.35" fill="#ad1117"/>
<rect x="27.04" y="207.51" width="17.84" height="3.35" fill="#f44f38"/>
<rect x="27.04" y="210.56" width="17.84" height="3.35" fill="#fee9df"/>
<rect x="27.04" y="213.61" width="17.84" height="3.35" fill="#67000d"/>
<rect x="27.04" y="216.66" width="17.84" height="3.35" fill="#fa6648"/>
<rect x="27.04" y="219.71" width="17.84" height="3.35" fill="#fca487"/>
<rect x="27.04" y="222.77" width="17.84" height="3.35" fill="#fcb196"/>
<rect x="27.04" y="225.82" width="17.84" height="3.35" fill="#800610"/>
<rect x="27.04" y="228.87" width="17.84" height="3.35" fill="#fca98d"/>
<rect x="27.04" y="231.92" width="17.84" height="3.35" fill="#fdd6c4"/>
<rect x="27.04" y="234.97" width="17.84" height="3.35" fill="#fee7dc"/>
<rect x="27.04" y="238.02" width="17.84" height="3.35" fill="#fee9df"/>
<rect x="27.04" y="241.07" width="17.84" height="21.66" fill="#fff5f0"/>
<rect x="27.04" y="262.43" width="17.84" height="3.35" fill="#ffece3"/>
<rect x="27.04" y="265.48" width="17.84" height="3.35" fill="#ffeee6"/>
<rect x="27.04" y="268.53" width="17.84" height="6.40" fill="#fff5f0"/>
<rect x="27.04" y="274.64" width="17.84" height="3.35" fill="#fee7dc"/>
<rect x="27.04" y="277.69" width="17.84" height="3.35" fill="#fee9df"/>
<rect x="27.04" y="280.74" width="17.84" height="3.35" fill="#ffeee6"/>
<rect x="27.04" y="283.79" width="17.84" height="3.35" fill="#fdd6c4"/>
<rect x="27.04" y="286.84" width="17.84" height="3.35" fill="#fee9df"/>
<rect x="27.04" y="289.89" width="17.84" height="3.35" fill="#fdd1be"/>
<rect x="27.04" y="292.94" width="17.84" height="3.35" fill="#fee7dc"/>
<rect x="27.04" y="295.99" width="17.84" height="3.35" fill="#fa6648"/>
<rect x="27.04" y="299.04" width="17.84" height="3.35" fill="#fb7b5b"/>
<rect x="27.04" y="302.10" width="17.84" height="3.35" fill="#fee7dc"/>
<rect x="27.04" y="305.15" width="17.84" height="3.35" fill="#fee9df"/>
<rect x="27.04" y="308.20" width="17.84" height="3.35" fill="#fee1d3"/>
<rect x="27.04" y="311.25" width="17.84" height="3.35" fill="#ffeee6"/>
<rect x="44.58" y="180.05" width="17.84" height="9.45" fill="#fff5f0"/>
<rect x="44.58" y="189.20" width="17.84" height="3.35" fill="#fee7dc"/>
<rect x="44.58" y="192.25" width="17.84" height="122.35" fill="#fff5f0"/>
<rect x="62.12" y="180.05" width="17.84" height="15.56" fill="#fff5f0"/>
<rect x="62.12" y="195.31" width="17.84" height="3.35" fill="#ffeee6"/>
<rect x="62.12" y="198.36" width="17.84" height="3.35" fill="#ffece3"/>
<rect x="62.12" y="201.41" width="17.84" height="3.35" fill="#ffeee6"/>
<rect x="62.12" y="204.46" width="17.84" height="3.35" fill="#fff5f0"/>
<rect x="62.12" y="207.51" width="17.84" height="3.35" fill="#ffece3"/>
<rect x="62.12" y="210.56" width="17.84" height="9.45" fill="#fff5f0"/>
<rect x="62.12" y="219.71" width="17.84" height="3.35" fill="#fc8f6f"/>
<rect x="62.12" y="222.77" width="17.84" height="6.40" fill="#fff5f0"/>
<rect x="62.12" y="228.87" width="17.84" height="6.40" fill="#ffefe8"/>
<rect x="62.12" y="234.97" width="17.84" height="3.35" fill="#fee1d3"/>
<rect x="62.12" y="238.02" width="17.84" height="3.35" fill="#fee7dc"/>
<rect x="62.12" y="241.07" width="17.84" height="3.35" fill="#fff5f0"/>
<rect x="62.12" y="244.12" width="17.84" height="3.35" fill="#fee1d3"/>
<rect x="62.12" y="247.18" width="17.84" height="3.35" fill="#fff5f0"/>
<rect x="62.12" y="250.23" width="17.84" height="3.35" fill="#ffefe8"/>
<rect x="62.12" y="253.28" width="17.84" height="21.66" fill="#fff5f0"/>
<rect x="62.12" y="274.64" width="17.84" height="3.35" fill="#ffece3"/>
<rect x="62.12" y="277.69" width="17.84" height="3.35" fill="#fee7dc"/>
<rect x="62.12" y="280.74" width="17.84" height="3.35" fill="#ffeee6"/>
<rect x="62.12" y="283.79" width="17.84" height="9.45" fill="#fee9df"/>
<rect x="62.12" y="292.94" width="17.84" height="6.40" fill="#ffece3"/>
<rect x="62.12" y="299.04" width="17.84" height="3.35" fill="#fee9df"/>
<rect x="62.12" y="302.10" width="17.84" height="3.35" fill="#ffece3"/>
<rect x="62.12" y="305.15" width="17.84" height="3.35" fill="#fee9df"/>
<rect x="62.12" y="308.20" width="17.84" height="3.35" fill="#ffece3"/>
<rect x="62.12" y="311.25" width="17.84" height="3.35" fill="#ffeee6"/>
<rect x="79.66" y="180.05" width="17.84" height="49.12" fill="#fff5f0"/>
<rect x="79.66" y="228.87" width="17.84" height="3.35" fill="#ffece3"/>
<rect x="79.66" y="231.92" width="17.84" height="9.45" fill="#fee9df"/>
<rect x="79.66" y="241.07" width="17.84" height="3.35" fill="#800610"/>
<rect x="79.66" y="244.12" width="17.84" height="3.35" fill="#fff5f0"/>
<rect x="79.66" y="247.18" width="17.84" height="3.35" fill="#d92623"/>
<rect x="79.66" y="250.23" width="17.84" height="12.50" fill="#fff5f0"/>
<rect x="79.66" y="262.43" width="17.84" height="3.35" fill="#fee9df"/>
<rect x="79.66" y="265.48" width="17.84" height="3.35" fill="#fedacb"/>
<rect x="79.66" y="268.53" width="17.84" height="3.35" fill="#ffefe8"/>
<rect x="79.66" y="271.58" width="17.84" height="3.35" fill="#ffece3"/>
<rect x="79.66" y="274.64" width="17.84" height="3.35" fill="#fee9df"/>
<rect x="79.66" y="277.69" width="17.84" height="3.35" fill="#fee7dc"/>
<rect x="79.66" y="280.74" width="17.84" height="3.35" fill="#ffece3"/>
<rect x="79.66" y="283.79" width="17.84" height="3.35" fill="#fee9df"/>
<rect x="79.66" y="286.84" width="17.84" height="3.35" fill="#ffefe8"/>
<rect x="79.66" y="289.89" width="17.84" height="3.35" fill="#fee9df"/>
<rect x="79.66" y="292.94" width="17.84" height="3.35" fill="#ffefe8"/>
<rect x="79.66" y="295.99" width="17.84" height="3.35" fill="#fee9df"/>
<rect x="79.66" y="299.04" width="17.84" height="3.35" fill="#ffece3"/>
<rect x="79.66" y="302.10" width="17.84" height="3.35" fill="#fee1d3"/>
<rect x="79.66" y="305.15" width="17.84" height="3.35" fill="#fee7dc"/>
<rect x="79.66" y="308.20" width="17.84" height="3.35" fill="#ffece3"/>
<rect x="79.66" y="311.25" width="17.84" height="3.35" fill="#fdd6c4"/>
<rect x="97.20" y="180.05" width="17.84" height="3.35" fill="#fff5f0"/>
<rect x="97.20" y="183.10" width="17.84" height="3.35" fill="#67000d"/>
<rect x="97.20" y="186.15" width="17.84" height="128.45" fill="#fff5f0"/>
<rect x="114.74" y="180.05" width="17.84" height="9.45" fill="#fff5f0"/>
<rect x="114.74" y="189.20" width="17.84" height="3.35" fill="#ffeee6"/>
<rect x="114.74" y="192.25" width="17.84" height="52.17" fill="#fff5f0"/>
<rect x="114.74" y="244.12" width="17.84" height="3.35" fill="#ffefe8"/>
<rect x="114.74" y="247.18" width="17.84" height="67.42" fill="#fff5f0"/>
<rect x="132.28" y="180.05" width="17.84" height="3.35" fill="#fcbea5"/>
<rect x="132.28" y="183.10" width="17.84" height="3.35" fill="#ffefe8"/>
<rect x="132.28" y="186.15" width="17.84" height="3.35" fill="#fdd6c4"/>
<rect x="132.28" y="189.20" width="17.84" height="6.40" fill="#fff5f0"/>
<rect x="132.28" y="195.31" width="17.84" height="3.35" fill="#ffefe8"/>
<rect x="132.28" y="198.36" width="17.84" height="9.45" fill="#fff0e9"/>
<rect x="132.28" y="207.51" width="17.84" height="3.35" fill="#fee9df"/>
<rect x="132.28" y="210.56" width="17.84" height="3.35" fill="#fcc3ab"/>
<rect x="132.28" y="213.61" width="17.84" height="3.35" fill="#fff5f0"/>
<rect x="132.28" y="216.66" width="17.84" height="3.35" fill="#ffece3"/>
<rect x="132.28" y="219.71" width="17.84" height="3.35" fill="#fff5f0"/>
<rect x="132.28" y="222.77" width="17.84" height="3.35" fill="#fca98d"/>
<rect x="132.28" y="225.82" width="17.84" height="3.35" fill="#fff1eb"/>
<rect x="132.28" y="228.87" width="17.84" height="3.35" fill="#fdd6c4"/>
<rect x="132.28" y="231.92" width="17.84" height="9.45" fill="#fee9df"/>
<rect x="132.28" y="241.07" width="17.84" height="3.35" fill="#fff5f0"/>
<rect x="132.28" y="244.12" width="17.84" height="3.35" fill="#fcb196"/>
<rect x="132.28" y="247.18" width="17.84" height="3.35" fill="#ffece3"/>
<rect x="132.28" y="250.23" width="17.84" height="3.35" fill="#d92623"/>
<rect x="132.28" y="253.28" width="17.84" height="3.35" fill="#ec382b"/>
<rect x="132.28" y="256.33" width="17.84" height="3.35" fill="#8f0a12"/>
<rect x="132.28" y="259.38" width="17.84" height="3.35" fill="#800610"/>
<rect x="132.28" y="262.43" width="17.84" height="3.35" fill="#e12d26"/>
<rect x="132.28" y="265.48" width="17.84" height="3.35" fill="#fdc7b1"/>
<rect x="132.28" y="268.53" width="17.84" height="3.35" fill="#fff5f0"/>
<rect x="132.28" y="271.58" width="17.84" height="6.40" fill="#fee7dc"/>
<rect x="132.28" y="277.69" width="17.84" height="3.35" fill="#ffefe8"/>
<rect x="132.28" y="280.74" width="17.84" height="3.35" fill="#fca98d"/>
<rect x="132.28" y="283.79" width="17.84" height="3.35" fill="#fff5f0"/>
<rect x="132.28" y="286.84" width="17.84" height="3.35" fill="#fff0e9"/>
<rect x="132.28" y="289.89" width="17.84" height="3.35" fill="#ffefe8"/>
<rect x="132.28" y="292.94" width="17.84" height="3.35" fill="#fdd1be"/>
<rect x="132.28" y="295.99" width="17.84" height="3.35" fill="#fff0e9"/>
<rect x="132.28" y="299.04" width="17.84" height="3.35" fill="#ffeee6"/>
<rect x="132.28" y="302.10" width="17.84" height="3.35" fill="#fee1d3"/>
<rect x="132.28" y="305.15" width="17.84" height="3.35" fill="#fee7dc"/>
<rect x="132.28" y="308.20" width="17.84" height="3.35" fill="#fee9df"/>
<rect x="132.28" y="311.25" width="17.84" height="3.35" fill="#ffefe8"/>
<rect x="149.82" y="180.05" width="17.84" height="9.45" fill="#fff5f0"/>
<rect x="149.82" y="189.20" width="17.84" height="3.35" fill="#fdcab5"/>
<rect x="149.82" y="192.25" width="17.84" height="18.61" fill="#fff5f0"/>
<rect x="149.82" y="210.56" width="17.84" height="3.35" fill="#fee9df"/>
<rect x="149.82" y="213.61" width="17.84" height="9.45" fill="#fff5f0"/>
<rect x="149.82" y="222.77" width="17.84" height="3.35" fill="#ffefe8"/>
<rect x="149.82" y="225.82" width="17.84" height="6.40" fill="#fff5f0"/>
<rect x="149.82" y="231.92" width="17.84" height="3.35" fill="#ffefe8"/>
<rect x="149.82" y="234.97" width="17.84" height="6.40" fill="#ffece3"/>
<rect x="149.82" y="241.07" width="17.84" height="3.35" fill="#fff5f0"/>
<rect x="149.82" y="244.12" width="17.84" height="9.45" fill="#fee7dc"/>
<rect x="149.82" y="253.28" width="17.84" height="3.35" fill="#fee9df"/>
<rect x="149.82" y="256.33" width="17.84" height="6.40" fill="#ffeee6"/>
<rect x="149.82" y="262.43" width="17.84" height="3.35" fill="#fee7dc"/>
<rect x="149.82" y="265.48" width="17.84" height="3.35" fill="#fdd6c4"/>
<rect x="149.82" y="268.53" width="17.84" height="3.35" fill="#fff5f0"/>
<rect x="149.82" y="271.58" width="17.84" height="3.35" fill="#fc8f6f"/>
<rect x="149.82" y="274.64" width="17.84" height="3.35" fill="#fcbea5"/>
<rect x="149.82" y="277.69" width="17.84" height="3.35" fill="#ffece3"/>
<rect x="149.82" y="280.74" width="17.84" height="3.35" fill="#fee1d3"/>
<rect x="149.82" y="283.79" width="17.84" height="3.35" fill="#fff0e9"/>
<rect x="149.82" y="286.84" width="17.84" height="6.40" fill="#fff5f0"/>
<rect x="149.82" y="292.94" width="17.84" height="3.35" fill="#ffece3"/>
<rect x="149.82" y="295.99" width="17.84" height="3.35" fill="#fff5f0"/>
<rect x="149.82" y="299.04" width="17.84" height="3.35" fill="#fff0e9"/>
<rect x="149.82" y="302.10" width="17.84" height="3.35" fill="#ffece3"/>
<rect x="149.82" y="305.15" width="17.84" height="6.40" fill="#fee9df"/>
<rect x="149.82" y="311.25" width="17.84" height="3.35" fill="#ffefe8"/>
<rect x="167.36" y="180.05" width="17.84" height="134.55" fill="#fff5f0"/>
<rect x="184.90" y="180.05" width="17.84" height="6.40" fill="#fff5f0"/>
<rect x="184.90" y="186.15" width="17.84" height="3.35" fill="#fdcab5"/>
<rect x="184.90" y="189.20" width="17.84" height="15.56" fill="#fff5f0"/>
<rect x="184.90" y="204.46" width="17.84" height="3.35" fill="#ffece3"/>
<rect x="184.90" y="207.51" width="17.84" height="3.35" fill="#fee7dc"/>
<rect x="184.90" y="210.56" width="17.84" height="3.35" fill="#fee9df"/>
<rect x="184.90" y="213.61" width="17.84" height="3.35" fill="#fff5f0"/>
<rect x="184.90" y="216.66" width="17.84" height="3.35" fill="#ffefe8"/>
<rect x="184.90" y="219.71" width="17.84" height="3.35" fill="#fee1d3"/>
<rect x="184.90" y="222.77" width="17.84" height="3.35" fill="#fee9df"/>
<rect x="184.90" y="225.82" width="17.84" height="3.35" fill="#ffeee6"/>
<rect x="184.90" y="228.87" width="17.84" height="3.35" fill="#fee1d3"/>
<rect x="184.90" y="231.92" width="17.84" height="3.35" fill="#fcb99f"/>
<rect x="184.90" y="234.97" width="17.84" height="3.35" fill="#fdcab5"/>
<rect x="184.90" y="238.02" width="17.84" height="3.35" fill="#fdd6c4"/>
<rect x="184.90" y="241.07" width="17.84" height="3.35" fill="#fff1eb"/>
<rect x="184.90" y="244.12" width="17.84" height="3.35" fill="#fee7dc"/>
<rect x="184.90" y="247.18" width="17.84" height="3.35" fill="#ffefe8"/>
<rect x="184.90" y="250.23" width="17.84" height="3.35" fill="#fee1d3"/>
<rect x="184.90" y="253.28" width="17.84" height="3.35" fill="#ffeee6"/>
<rect x="184.90" y="256.33" width="17.84" height="3.35" fill="#fff5f0"/>
<rect x="184.90" y="259.38" width="17.84" height="3.35" fill="#fff0e9"/>
<rect x="184.90" y="262.43" width="17.84" height="3.35" fill="#ffece3"/>
<rect x="184.90" y="265.48" width="17.84" height="3.35" fill="#ffeee6"/>
<rect x="184.90" y="268.53" width="17.84" height="3.35" fill="#67000d"/>
<rect x="184.90" y="271.58" width="17.84" height="3.35" fill="#fca487"/>
<rect x="184.90" y="274.64" width="17.84" height="3.35" fill="#fc9c7d"/>
<rect x="184.90" y="277.69" width="17.84" height="3.35" fill="#fca487"/>
<rect x="184.90" y="280.74" width="17.84" height="3.35" fill="#ffefe8"/>
<rect x="184.90" y="283.79" width="17.84" height="9.45" fill="#fa6648"/>
<rect x="184.90" y="292.94" width="17.84" height="3.35" fill="#fee1d3"/>
<rect x="184.90" y="295.99" width="17.84" height="3.35" fill="#fa6648"/>
<rect x="184.90" y="299.04" width="17.84" height="3.35" fill="#fcbea5"/>
<rect x="184.90" y="302.10" width="17.84" height="3.35" fill="#fdd6c4"/>
<rect x="184.90" y="305.15" width="17.84" height="3.35" fill="#fcbea5"/>
<rect x="184.90" y="308.20" width="17.84" height="3.35" fill="#fdd6c4"/>
<rect x="184.90" y="311.25" width="17.84" height="3.35" fill="#fee7dc"/>
<rect x="202.44" y="180.05" width="17.84" height="134.55" fill="#fff5f0"/>
<rect x="219.98" y="180.05" width="17.84" height="9.45" fill="#fff5f0"/>
<rect x="219.98" y="189.20" width="17.84" height="3.35" fill="#fdcab5"/>
<rect x="219.98" y="192.25" width="17.84" height="15.56" fill="#fff5f0"/>
<rect x="219.98" y="207.51" width="17.84" height="3.35" fill="#fee9df"/>
<rect x="219.98" y="210.56" width="17.84" height="3.35" fill="#fdd1be"/>
<rect x="219.98" y="213.61" width="17.84" height="3.35" fill="#fff5f0"/>
<rect x="219.98" y="216.66" width="17.84" height="6.40" fill="#fee9df"/>
<rect x="219.98" y="222.77" width="17.84" height="3.35" fill="#ffece3"/>
<rect x="219.98" y="225.82" width="17.84" height="9.45" fill="#fff5f0"/>
<rect x="219.98" y="234.97" width="17.84" height="6.40" fill="#fee1d3"/>
<rect x="219.98" y="241.07" width="17.84" height="3.35" fill="#fff5f0"/>
<rect x="219.98" y="244.12" width="17.84" height="3.35" fill="#fedacb"/>
<rect x="219.98" y="247.18" width="17.84" height="3.35" fill="#ffefe8"/>
<rect x="219.98" y="250.23" width="17.84" height="3.35" fill="#fee9df"/>
<rect x="219.98" y="253.28" width="17.84" height="3.35" fill="#ffeee6"/>
<rect x="219.98" y="256.33" width="17.84" height="3.35" fill="#ffefe8"/>
<rect x="219.98" y="259.38" width="17.84" height="3.35" fill="#fff5f0"/>
<rect x="219.98" y="262.43" width="17.84" height="6.40" fill="#fee1d3"/>
<rect x="219.98" y="268.53" width="17.84" height="3.35" fill="#fff5f0"/>
<rect x="219.98" y="271.58" width="17.84" height="3.35" fill="#fedacb"/>
<rect x="219.98" y="274.64" width="17.84" height="3.35" fill="#ffece3"/>
<rect x="219.98" y="277.69" width="17.84" height="6.40" fill="#fdc5ae"/>
<rect x="219.98" y="283.79" width="17.84" height="3.35" fill="#fee1d3"/>
<rect x="219.98" y="286.84" width="17.84" height="6.40" fill="#fdd6c4"/>
<rect x="219.98" y="292.94" width="17.84" height="3.35" fill="#fee1d3"/>
<rect x="219.98" y="295.99" width="17.84" height="3.35" fill="#ffece3"/>
<rect x="219.98" y="299.04" width="17.84" height="3.35" fill="#ffeee6"/>
<rect x="219.98" y="302.10" width="17.84" height="3.35" fill="#fee7dc"/>
<rect x="219.98" y="305.15" width="17.84" height="3.35" fill="#fedacb"/>
<rect x="219.98" y="308.20" width="17.84" height="3.35" fill="#fee9df"/>
<rect x="219.98" y="311.25" width="17.84" height="3.35" fill="#f44f38"/>
<rect x="237.52" y="180.05" width="17.84" height="9.45" fill="#fff5f0"/>
<rect x="237.52" y="189.20" width="17.84" height="3.35" fill="#ffece3"/>
<rect x="237.52" y="192.25" width="17.84" height="18.61" fill="#fff5f0"/>
<rect x="237.52" y="210.56" width="17.84" height="3.35" fill="#ffefe8"/>
<rect x="237.52" y="213.61" width="17.84" height="21.66" fill="#fff5f0"/>
<rect x="237.52" y="234.97" width="17.84" height="3.35" fill="#ffefe8"/>
<rect x="237.52" y="238.02" width="17.84" height="27.76" fill="#fff5f0"/>
<rect x="237.52" y="265.48" width="17.84" height="3.35" fill="#ffefe8"/>
<rect x="237.52" y="268.53" width="17.84" height="12.50" fill="#fff5f0"/>
<rect x="237.52" y="280.74" width="17.84" height="3.35" fill="#fff0e9"/>
<rect x="237.52" y="283.79" width="17.84" height="18.61" fill="#fff5f0"/>
<rect x="237.52" y="302.10" width="17.84" height="6.40" fill="#ffefe8"/>
<rect x="237.52" y="308.20" width="17.84" height="6.40" fill="#fff5f0"/>
<rect x="255.06" y="180.05" width="17.84" height="30.81" fill="#fff5f0"/>
<rect x="255.06" y="210.56" width="17.84" height="3.35" fill="#ffefe8"/>
<rect x="255.06" y="213.61" width="17.84" height="100.99" fill="#fff5f0"/>
</g>
<rect x="9.5" y="180.05" width="263.10" height="134.25" fill="none" stroke="#a4a4a4" stroke-width="0.45"/>
<line x1="18.27" y1="179.25" x2="18.27" y2="180.05" stroke="#999" stroke-width="0.3"/>
<text class="tk" x="18.27" y="177.05" text-anchor="middle">2</text>
<line x1="35.81" y1="179.25" x2="35.81" y2="180.05" stroke="#999" stroke-width="0.3"/>
<text class="tk" x="35.81" y="177.05" text-anchor="middle">3</text>
<line x1="53.35" y1="179.25" x2="53.35" y2="180.05" stroke="#999" stroke-width="0.3"/>
<line x1="70.89" y1="179.25" x2="70.89" y2="180.05" stroke="#999" stroke-width="0.3"/>
<text class="tk" x="70.89" y="177.05" text-anchor="middle">4</text>
<line x1="88.43" y1="179.25" x2="88.43" y2="180.05" stroke="#999" stroke-width="0.3"/>
<text class="tk" x="88.43" y="177.05" text-anchor="middle">5</text>
<line x1="105.97" y1="179.25" x2="105.97" y2="180.05" stroke="#999" stroke-width="0.3"/>
<text class="tk" x="105.97" y="177.05" text-anchor="middle">6</text>
<line x1="123.51" y1="179.25" x2="123.51" y2="180.05" stroke="#999" stroke-width="0.3"/>
<line x1="141.05" y1="179.25" x2="141.05" y2="180.05" stroke="#999" stroke-width="0.3"/>
<text class="tk" x="141.05" y="177.05" text-anchor="middle">2</text>
<line x1="158.59" y1="179.25" x2="158.59" y2="180.05" stroke="#999" stroke-width="0.3"/>
<text class="tk" x="158.59" y="177.05" text-anchor="middle">8</text>
<line x1="176.13" y1="179.25" x2="176.13" y2="180.05" stroke="#999" stroke-width="0.3"/>
<text class="tk" x="176.13" y="177.05" text-anchor="middle">1</text>
<line x1="193.67" y1="179.25" x2="193.67" y2="180.05" stroke="#999" stroke-width="0.3"/>
<text class="tk" x="193.67" y="177.05" text-anchor="middle">5</text>
<line x1="211.21" y1="179.25" x2="211.21" y2="180.05" stroke="#999" stroke-width="0.3"/>
<line x1="228.75" y1="179.25" x2="228.75" y2="180.05" stroke="#999" stroke-width="0.3"/>
<line x1="246.29" y1="179.25" x2="246.29" y2="180.05" stroke="#999" stroke-width="0.3"/>
<line x1="263.83" y1="179.25" x2="263.83" y2="180.05" stroke="#999" stroke-width="0.3"/>
<line x1="8.70" y1="181.58" x2="9.50" y2="181.58" stroke="#999" stroke-width="0.3"/>
<text class="tl" transform="translate(7.00,181.58) rotate(-90)" text-anchor="middle" dy="0.65">1</text>
<line x1="8.70" y1="184.63" x2="9.50" y2="184.63" stroke="#999" stroke-width="0.3"/>
<text class="tl" transform="translate(7.00,184.63) rotate(-90)" text-anchor="middle" dy="0.65">2</text>
<line x1="8.70" y1="187.68" x2="9.50" y2="187.68" stroke="#999" stroke-width="0.3"/>
<text class="tl" transform="translate(7.00,187.68) rotate(-90)" text-anchor="middle" dy="0.65">3</text>
<line x1="8.70" y1="190.73" x2="9.50" y2="190.73" stroke="#999" stroke-width="0.3"/>
<line x1="8.70" y1="193.78" x2="9.50" y2="193.78" stroke="#999" stroke-width="0.3"/>
<text class="tl" transform="translate(7.00,193.78) rotate(-90)" text-anchor="middle" dy="0.65">5</text>
<line x1="8.70" y1="196.83" x2="9.50" y2="196.83" stroke="#999" stroke-width="0.3"/>
<text class="tl" transform="translate(7.00,196.83) rotate(-90)" text-anchor="middle" dy="0.65">6</text>
<line x1="8.70" y1="199.88" x2="9.50" y2="199.88" stroke="#999" stroke-width="0.3"/>
<text class="tl" transform="translate(7.00,199.88) rotate(-90)" text-anchor="middle" dy="0.65">7</text>
<line x1="8.70" y1="202.93" x2="9.50" y2="202.93" stroke="#999" stroke-width="0.3"/>
<text class="tl" transform="translate(7.00,202.93) rotate(-90)" text-anchor="middle" dy="0.65">8</text>
<line x1="8.70" y1="205.98" x2="9.50" y2="205.98" stroke="#999" stroke-width="0.3"/>
<text class="tl" transform="translate(7.00,205.98) rotate(-90)" text-anchor="middle" dy="0.65">9</text>
<line x1="8.70" y1="209.04" x2="9.50" y2="209.04" stroke="#999" stroke-width="0.3"/>
<line x1="8.70" y1="212.09" x2="9.50" y2="212.09" stroke="#999" stroke-width="0.3"/>
<text class="tl" transform="translate(7.00,212.09) rotate(-90)" text-anchor="middle" dy="0.65">11</text>
<line x1="8.70" y1="215.14" x2="9.50" y2="215.14" stroke="#999" stroke-width="0.3"/>
<text class="tl" transform="translate(7.00,215.14) rotate(-90)" text-anchor="middle" dy="0.65">12</text>
<line x1="8.70" y1="218.19" x2="9.50" y2="218.19" stroke="#999" stroke-width="0.3"/>
<text class="tl" transform="translate(7.00,218.19) rotate(-90)" text-anchor="middle" dy="0.65">13</text>
<line x1="8.70" y1="221.24" x2="9.50" y2="221.24" stroke="#999" stroke-width="0.3"/>
<text class="tl" transform="translate(7.00,221.24) rotate(-90)" text-anchor="middle" dy="0.65">14</text>
<line x1="8.70" y1="224.29" x2="9.50" y2="224.29" stroke="#999" stroke-width="0.3"/>
<text class="tl" transform="translate(7.00,224.29) rotate(-90)" text-anchor="middle" dy="0.65">15</text>
<line x1="8.70" y1="227.34" x2="9.50" y2="227.34" stroke="#999" stroke-width="0.3"/>
<text class="tl" transform="translate(7.00,227.34) rotate(-90)" text-anchor="middle" dy="0.65">16</text>
<line x1="8.70" y1="230.39" x2="9.50" y2="230.39" stroke="#999" stroke-width="0.3"/>
<text class="tl" transform="translate(7.00,230.39) rotate(-90)" text-anchor="middle" dy="0.65">17</text>
<line x1="8.70" y1="233.44" x2="9.50" y2="233.44" stroke="#999" stroke-width="0.3"/>
<text class="tl" transform="translate(7.00,233.44) rotate(-90)" text-anchor="middle" dy="0.65">18</text>
<line x1="8.70" y1="236.50" x2="9.50" y2="236.50" stroke="#999" stroke-width="0.3"/>
<line x1="8.70" y1="239.55" x2="9.50" y2="239.55" stroke="#999" stroke-width="0.3"/>
<text class="tl" transform="translate(7.00,239.55) rotate(-90)" text-anchor="middle" dy="0.65">20</text>
<line x1="8.70" y1="242.60" x2="9.50" y2="242.60" stroke="#999" stroke-width="0.3"/>
<text class="tl" transform="translate(7.00,242.60) rotate(-90)" text-anchor="middle" dy="0.65">21</text>
<line x1="8.70" y1="245.65" x2="9.50" y2="245.65" stroke="#999" stroke-width="0.3"/>
<line x1="8.70" y1="248.70" x2="9.50" y2="248.70" stroke="#999" stroke-width="0.3"/>
<text class="tl" transform="translate(7.00,248.70) rotate(-90)" text-anchor="middle" dy="0.65">23</text>
<line x1="8.70" y1="251.75" x2="9.50" y2="251.75" stroke="#999" stroke-width="0.3"/>
<text class="tl" transform="translate(7.00,251.75) rotate(-90)" text-anchor="middle" dy="0.65">24</text>
<line x1="8.70" y1="254.80" x2="9.50" y2="254.80" stroke="#999" stroke-width="0.3"/>
<text class="tl" transform="translate(7.00,254.80) rotate(-90)" text-anchor="middle" dy="0.65">25</text>
<line x1="8.70" y1="257.85" x2="9.50" y2="257.85" stroke="#999" stroke-width="0.3"/>
<text class="tl" transform="translate(7.00,257.85) rotate(-90)" text-anchor="middle" dy="0.65">26</text>
<line x1="8.70" y1="260.91" x2="9.50" y2="260.91" stroke="#999" stroke-width="0.3"/>
<text class="tl" transform="translate(7.00,260.91) rotate(-90)" text-anchor="middle" dy="0.65">27</text>
<line x1="8.70" y1="263.96" x2="9.50" y2="263.96" stroke="#999" stroke-width="0.3"/>
<text class="tl" transform="translate(7.00,263.96) rotate(-90)" text-anchor="middle" dy="0.65">28</text>
<line x1="8.70" y1="267.01" x2="9.50" y2="267.01" stroke="#999" stroke-width="0.3"/>
<text class="tl" transform="translate(7.00,267.01) rotate(-90)" text-anchor="middle" dy="0.65">29</text>
<line x1="8.70" y1="270.06" x2="9.50" y2="270.06" stroke="#999" stroke-width="0.3"/>
<text class="tl" transform="translate(7.00,270.06) rotate(-90)" text-anchor="middle" dy="0.65">30</text>
<line x1="8.70" y1="273.11" x2="9.50" y2="273.11" stroke="#999" stroke-width="0.3"/>
<text class="tl" transform="translate(7.00,273.11) rotate(-90)" text-anchor="middle" dy="0.65">31</text>
<line x1="8.70" y1="276.16" x2="9.50" y2="276.16" stroke="#999" stroke-width="0.3"/>
<text class="tl" transform="translate(7.00,276.16) rotate(-90)" text-anchor="middle" dy="0.65">32</text>
<line x1="8.70" y1="279.21" x2="9.50" y2="279.21" stroke="#999" stroke-width="0.3"/>
<text class="tl" transform="translate(7.00,279.21) rotate(-90)" text-anchor="middle" dy="0.65">33</text>
<line x1="8.70" y1="282.26" x2="9.50" y2="282.26" stroke="#999" stroke-width="0.3"/>
<text class="tl" transform="translate(7.00,282.26) rotate(-90)" text-anchor="middle" dy="0.65">34</text>
<line x1="8.70" y1="285.31" x2="9.50" y2="285.31" stroke="#999" stroke-width="0.3"/>
<text class="tl" transform="translate(7.00,285.31) rotate(-90)" text-anchor="middle" dy="0.65">35</text>
<line x1="8.70" y1="288.37" x2="9.50" y2="288.37" stroke="#999" stroke-width="0.3"/>
<text class="tl" transform="translate(7.00,288.37) rotate(-90)" text-anchor="middle" dy="0.65">36</text>
<line x1="8.70" y1="291.42" x2="9.50" y2="291.42" stroke="#999" stroke-width="0.3"/>
<text class="tl" transform="translate(7.00,291.42) rotate(-90)" text-anchor="middle" dy="0.65">37</text>
<line x1="8.70" y1="294.47" x2="9.50" y2="294.47" stroke="#999" stroke-width="0.3"/>
<text class="tl" transform="translate(7.00,294.47) rotate(-90)" text-anchor="middle" dy="0.65">38</text>
<line x1="8.70" y1="297.52" x2="9.50" y2="297.52" stroke="#999" stroke-width="0.3"/>
<text class="tl" transform="translate(7.00,297.52) rotate(-90)" text-anchor="middle" dy="0.65">39</text>
<line x1="8.70" y1="300.57" x2="9.50" y2="300.57" stroke="#999" stroke-width="0.3"/>
<text class="tl" transform="translate(7.00,300.57) rotate(-90)" text-anchor="middle" dy="0.65">40</text>
<line x1="8.70" y1="303.62" x2="9.50" y2="303.62" stroke="#999" stroke-width="0.3"/>
<text class="tl" transform="translate(7.00,303.62) rotate(-90)" text-anchor="middle" dy="0.65">41</text>
<line x1="8.70" y1="306.67" x2="9.50" y2="306.67" stroke="#999" stroke-width="0.3"/>
<text class="tl" transform="translate(7.00,306.67) rotate(-90)" text-anchor="middle" dy="0.65">42</text>
<line x1="8.70" y1="309.72" x2="9.50" y2="309.72" stroke="#999" stroke-width="0.3"/>
<line x1="8.70" y1="312.77" x2="9.50" y2="312.77" stroke="#999" stroke-width="0.3"/>
<defs><clipPath id="cld"><rect x="279.75" y="180.05" width="263.60" height="134.25"/></clipPath></defs>
<g clip-path="url(#cld)">
<rect x="279.75" y="180.05" width="263.60" height="134.25" fill="#fff2eb"/>
<rect x="279.75" y="180.05" width="17.87" height="9.45" fill="#fff5f0"/>
<rect x="279.75" y="189.20" width="17.87" height="3.35" fill="#fee1d3"/>
<rect x="279.75" y="192.25" width="17.87" height="30.81" fill="#fff5f0"/>
<rect x="279.75" y="222.77" width="17.87" height="3.35" fill="#ffece3"/>
<rect x="279.75" y="225.82" width="17.87" height="30.81" fill="#fff5f0"/>
<rect x="279.75" y="256.33" width="17.87" height="3.35" fill="#ffefe8"/>
<rect x="279.75" y="259.38" width="17.87" height="21.66" fill="#fff5f0"/>
<rect x="279.75" y="280.74" width="17.87" height="3.35" fill="#ffefe8"/>
<rect x="279.75" y="283.79" width="17.87" height="30.81" fill="#fff5f0"/>
<rect x="297.32" y="180.05" width="17.87" height="3.35" fill="#ad1117"/>
<rect x="297.32" y="183.10" width="17.87" height="6.40" fill="#fff5f0"/>
<rect x="297.32" y="189.20" width="17.87" height="3.35" fill="#fcbea5"/>
<rect x="297.32" y="192.25" width="17.87" height="3.35" fill="#ad1117"/>
<rect x="297.32" y="195.31" width="17.87" height="3.35" fill="#76040f"/>
<rect x="297.32" y="198.36" width="17.87" height="3.35" fill="#800610"/>
<rect x="297.32" y="201.41" width="17.87" height="3.35" fill="#bc141a"/>
<rect x="297.32" y="204.46" width="17.87" height="3.35" fill="#fcbea5"/>
<rect x="297.32" y="207.51" width="17.87" height="3.35" fill="#800610"/>
<rect x="297.32" y="210.56" width="17.87" height="3.35" fill="#cb181d"/>
<rect x="297.32" y="213.61" width="17.87" height="3.35" fill="#d92623"/>
<rect x="297.32" y="216.66" width="17.87" height="3.35" fill="#fcb196"/>
<rect x="297.32" y="219.71" width="17.87" height="3.35" fill="#76040f"/>
<rect x="297.32" y="222.77" width="17.87" height="3.35" fill="#ffefe8"/>
<rect x="297.32" y="225.82" width="17.87" height="6.40" fill="#f14532"/>
<rect x="297.32" y="231.92" width="17.87" height="6.40" fill="#fff5f0"/>
<rect x="297.32" y="238.02" width="17.87" height="3.35" fill="#fcc3ab"/>
<rect x="297.32" y="241.07" width="17.87" height="15.56" fill="#fff5f0"/>
<rect x="297.32" y="256.33" width="17.87" height="3.35" fill="#fdd1be"/>
<rect x="297.32" y="259.38" width="17.87" height="18.61" fill="#fff5f0"/>
<rect x="297.32" y="277.69" width="17.87" height="3.35" fill="#fca98d"/>
<rect x="297.32" y="280.74" width="17.87" height="3.35" fill="#fee7dc"/>
<rect x="297.32" y="283.79" width="17.87" height="3.35" fill="#fee1d3"/>
<rect x="297.32" y="286.84" width="17.87" height="3.35" fill="#fff5f0"/>
<rect x="297.32" y="289.89" width="17.87" height="3.35" fill="#ffeee6"/>
<rect x="297.32" y="292.94" width="17.87" height="3.35" fill="#ffefe8"/>
<rect x="297.32" y="295.99" width="17.87" height="3.35" fill="#fee7dc"/>
<rect x="297.32" y="299.04" width="17.87" height="3.35" fill="#fcb196"/>
<rect x="297.32" y="302.10" width="17.87" height="3.35" fill="#fcbea5"/>
<rect x="297.32" y="305.15" width="17.87" height="3.35" fill="#fee9df"/>
<rect x="297.32" y="308.20" width="17.87" height="3.35" fill="#ffece3"/>
<rect x="297.32" y="311.25" width="17.87" height="3.35" fill="#fff5f0"/>
<rect x="314.90" y="180.05" width="17.87" height="3.35" fill="#fff5f0"/>
<rect x="314.90" y="183.10" width="17.87" height="6.40" fill="#76040f"/>
<rect x="314.90" y="189.20" width="17.87" height="3.35" fill="#ffefe8"/>
<rect x="314.90" y="192.25" width="17.87" height="36.91" fill="#fff5f0"/>
<rect x="314.90" y="228.87" width="17.87" height="3.35" fill="#ffece3"/>
<rect x="314.90" y="231.92" width="17.87" height="67.42" fill="#fff5f0"/>
<rect x="314.90" y="299.04" width="17.87" height="3.35" fill="#fee9df"/>
<rect x="314.90" y="302.10" width="17.87" height="12.50" fill="#fff5f0"/>
<rect x="332.47" y="180.05" width="17.87" height="9.45" fill="#fff5f0"/>
<rect x="332.47" y="189.20" width="17.87" height="3.35" fill="#ffeee6"/>
<rect x="332.47" y="192.25" width="17.87" height="30.81" fill="#fff5f0"/>
<rect x="332.47" y="222.77" width="17.87" height="3.35" fill="#ffefe8"/>
<rect x="332.47" y="225.82" width="17.87" height="9.45" fill="#fff5f0"/>
<rect x="332.47" y="234.97" width="17.87" height="3.35" fill="#a30e15"/>
<rect x="332.47" y="238.02" width="17.87" height="3.35" fill="#fee1d3"/>
<rect x="332.47" y="241.07" width="17.87" height="3.35" fill="#fff5f0"/>
<rect x="332.47" y="244.12" width="17.87" height="6.40" fill="#71020e"/>
<rect x="332.47" y="250.23" width="17.87" height="3.35" fill="#8a0811"/>
<rect x="332.47" y="253.28" width="17.87" height="3.35" fill="#fff5f0"/>
<rect x="332.47" y="256.33" width="17.87" height="3.35" fill="#ffece3"/>
<rect x="332.47" y="259.38" width="17.87" height="18.61" fill="#fff5f0"/>
<rect x="332.47" y="277.69" width="17.87" height="3.35" fill="#ffeee6"/>
<rect x="332.47" y="280.74" width="17.87" height="3.35" fill="#ffece3"/>
<rect x="332.47" y="283.79" width="17.87" height="12.50" fill="#fff5f0"/>
<rect x="332.47" y="295.99" width="17.87" height="3.35" fill="#ffece3"/>
<rect x="332.47" y="299.04" width="17.87" height="3.35" fill="#fdd6c4"/>
<rect x="332.47" y="302.10" width="17.87" height="3.35" fill="#ffefe8"/>
<rect x="332.47" y="305.15" width="17.87" height="9.45" fill="#fff5f0"/>
<rect x="350.04" y="180.05" width="17.87" height="134.55" fill="#fff5f0"/>
<rect x="367.62" y="180.05" width="17.87" height="76.58" fill="#fff5f0"/>
<rect x="367.62" y="256.33" width="17.87" height="3.35" fill="#ffeee6"/>
<rect x="367.62" y="259.38" width="17.87" height="21.66" fill="#fff5f0"/>
<rect x="367.62" y="280.74" width="17.87" height="3.35" fill="#ffefe8"/>
<rect x="367.62" y="283.79" width="17.87" height="30.81" fill="#fff5f0"/>
<rect x="385.19" y="180.05" width="17.87" height="76.58" fill="#fff5f0"/>
<rect x="385.19" y="256.33" width="17.87" height="3.35" fill="#ffeee6"/>
<rect x="385.19" y="259.38" width="17.87" height="55.22" fill="#fff5f0"/>
<rect x="402.76" y="180.05" width="17.87" height="9.45" fill="#fff5f0"/>
<rect x="402.76" y="189.20" width="17.87" height="3.35" fill="#fdcab5"/>
<rect x="402.76" y="192.25" width="17.87" height="12.50" fill="#fff5f0"/>
<rect x="402.76" y="204.46" width="17.87" height="3.35" fill="#fca487"/>
<rect x="402.76" y="207.51" width="17.87" height="3.35" fill="#fff5f0"/>
<rect x="402.76" y="210.56" width="17.87" height="3.35" fill="#ffece3"/>
<rect x="402.76" y="213.61" width="17.87" height="3.35" fill="#fff5f0"/>
<rect x="402.76" y="216.66" width="17.87" height="3.35" fill="#fcc3ab"/>
<rect x="402.76" y="219.71" width="17.87" height="3.35" fill="#fff5f0"/>
<rect x="402.76" y="222.77" width="17.87" height="3.35" fill="#fdcab5"/>
<rect x="402.76" y="225.82" width="17.87" height="6.40" fill="#fff5f0"/>
<rect x="402.76" y="231.92" width="17.87" height="3.35" fill="#a30e15"/>
<rect x="402.76" y="234.97" width="17.87" height="3.35" fill="#fee1d3"/>
<rect x="402.76" y="238.02" width="17.87" height="3.35" fill="#fedacb"/>
<rect x="402.76" y="241.07" width="17.87" height="3.35" fill="#800610"/>
<rect x="402.76" y="244.12" width="17.87" height="9.45" fill="#fff5f0"/>
<rect x="402.76" y="253.28" width="17.87" height="3.35" fill="#800610"/>
<rect x="402.76" y="256.33" width="17.87" height="3.35" fill="#fee7dc"/>
<rect x="402.76" y="259.38" width="17.87" height="3.35" fill="#ec382b"/>
<rect x="402.76" y="262.43" width="17.87" height="3.35" fill="#8f0a12"/>
<rect x="402.76" y="265.48" width="17.87" height="3.35" fill="#fca487"/>
<rect x="402.76" y="268.53" width="17.87" height="6.40" fill="#fff5f0"/>
<rect x="402.76" y="274.64" width="17.87" height="3.35" fill="#fcb196"/>
<rect x="402.76" y="277.69" width="17.87" height="3.35" fill="#fff5f0"/>
<rect x="402.76" y="280.74" width="17.87" height="3.35" fill="#fcbea5"/>
<rect x="402.76" y="283.79" width="17.87" height="3.35" fill="#ffeee6"/>
<rect x="402.76" y="286.84" width="17.87" height="6.40" fill="#fff5f0"/>
<rect x="402.76" y="292.94" width="17.87" height="3.35" fill="#fee9df"/>
<rect x="402.76" y="295.99" width="17.87" height="3.35" fill="#fff5f0"/>
<rect x="402.76" y="299.04" width="17.87" height="3.35" fill="#ffefe8"/>
<rect x="402.76" y="302.10" width="17.87" height="3.35" fill="#fcbea5"/>
<rect x="402.76" y="305.15" width="17.87" height="3.35" fill="#fb7b5b"/>
<rect x="402.76" y="308.20" width="17.87" height="3.35" fill="#fee9df"/>
<rect x="402.76" y="311.25" width="17.87" height="3.35" fill="#fff5f0"/>
<rect x="420.34" y="180.05" width="17.87" height="9.45" fill="#fff5f0"/>
<rect x="420.34" y="189.20" width="17.87" height="3.35" fill="#ffeee6"/>
<rect x="420.34" y="192.25" width="17.87" height="12.50" fill="#fff5f0"/>
<rect x="420.34" y="204.46" width="17.87" height="3.35" fill="#fee9df"/>
<rect x="420.34" y="207.51" width="17.87" height="67.42" fill="#fff5f0"/>
<rect x="420.34" y="274.64" width="17.87" height="3.35" fill="#fee9df"/>
<rect x="420.34" y="277.69" width="17.87" height="6.40" fill="#fff5f0"/>
<rect x="420.34" y="283.79" width="17.87" height="3.35" fill="#fff0e9"/>
<rect x="420.34" y="286.84" width="17.87" height="6.40" fill="#fff5f0"/>
<rect x="420.34" y="292.94" width="17.87" height="3.35" fill="#ffeee6"/>
<rect x="420.34" y="295.99" width="17.87" height="18.61" fill="#fff5f0"/>
<rect x="437.91" y="180.05" width="17.87" height="113.19" fill="#fff5f0"/>
<rect x="437.91" y="292.94" width="17.87" height="3.35" fill="#fee7dc"/>
<rect x="437.91" y="295.99" width="17.87" height="18.61" fill="#fff5f0"/>
<rect x="455.48" y="180.05" width="17.87" height="3.35" fill="#fee7dc"/>
<rect x="455.48" y="183.10" width="17.87" height="6.40" fill="#fff5f0"/>
<rect x="455.48" y="189.20" width="17.87" height="3.35" fill="#fdcab5"/>
<rect x="455.48" y="192.25" width="17.87" height="9.45" fill="#fff5f0"/>
<rect x="455.48" y="201.41" width="17.87" height="3.35" fill="#fdd6c4"/>
<rect x="455.48" y="204.46" width="17.87" height="3.35" fill="#fcc3ab"/>
<rect x="455.48" y="207.51" width="17.87" height="3.35" fill="#fff0e9"/>
<rect x="455.48" y="210.56" width="17.87" height="6.40" fill="#fdd6c4"/>
<rect x="455.48" y="216.66" width="17.87" height="3.35" fill="#fdd1be"/>
<rect x="455.48" y="219.71" width="17.87" height="3.35" fill="#fff0e9"/>
<rect x="455.48" y="222.77" width="17.87" height="3.35" fill="#fee7dc"/>
<rect x="455.48" y="225.82" width="17.87" height="3.35" fill="#fb7b5b"/>
<rect x="455.48" y="228.87" width="17.87" height="3.35" fill="#fcc3ab"/>
<rect x="455.48" y="231.92" width="17.87" height="6.40" fill="#ffefe8"/>
<rect x="455.48" y="238.02" width="17.87" height="3.35" fill="#fdd6c4"/>
<rect x="455.48" y="241.07" width="17.87" height="15.56" fill="#fff5f0"/>
<rect x="455.48" y="256.33" width="17.87" height="3.35" fill="#fee1d3"/>
<rect x="455.48" y="259.38" width="17.87" height="3.35" fill="#fee7dc"/>
<rect x="455.48" y="262.43" width="17.87" height="3.35" fill="#fff5f0"/>
<rect x="455.48" y="265.48" width="17.87" height="3.35" fill="#d92623"/>
<rect x="455.48" y="268.53" width="17.87" height="3.35" fill="#800610"/>
<rect x="455.48" y="271.58" width="17.87" height="3.35" fill="#990c13"/>
<rect x="455.48" y="274.64" width="17.87" height="3.35" fill="#fa6648"/>
<rect x="455.48" y="277.69" width="17.87" height="3.35" fill="#fc8f6f"/>
<rect x="455.48" y="280.74" width="17.87" height="3.35" fill="#fdd6c4"/>
<rect x="455.48" y="283.79" width="17.87" height="3.35" fill="#bc141a"/>
<rect x="455.48" y="286.84" width="17.87" height="3.35" fill="#800610"/>
<rect x="455.48" y="289.89" width="17.87" height="3.35" fill="#990c13"/>
<rect x="455.48" y="292.94" width="17.87" height="3.35" fill="#fa6648"/>
<rect x="455.48" y="295.99" width="17.87" height="3.35" fill="#bc141a"/>
<rect x="455.48" y="299.04" width="17.87" height="3.35" fill="#fc8f6f"/>
<rect x="455.48" y="302.10" width="17.87" height="3.35" fill="#fcbea5"/>
<rect x="455.48" y="305.15" width="17.87" height="3.35" fill="#fcb196"/>
<rect x="455.48" y="308.20" width="17.87" height="3.35" fill="#d92623"/>
<rect x="455.48" y="311.25" width="17.87" height="3.35" fill="#bc141a"/>
<rect x="473.06" y="180.05" width="17.87" height="134.55" fill="#fff5f0"/>
<rect x="490.63" y="180.05" width="17.87" height="30.81" fill="#fff5f0"/>
<rect x="490.63" y="210.56" width="17.87" height="3.35" fill="#ffeee6"/>
<rect x="490.63" y="213.61" width="17.87" height="3.35" fill="#fff5f0"/>
<rect x="490.63" y="216.66" width="17.87" height="3.35" fill="#ffeee6"/>
<rect x="490.63" y="219.71" width="17.87" height="3.35" fill="#fff5f0"/>
<rect x="490.63" y="222.77" width="17.87" height="3.35" fill="#ffefe8"/>
<rect x="490.63" y="225.82" width="17.87" height="12.50" fill="#fff5f0"/>
<rect x="490.63" y="238.02" width="17.87" height="3.35" fill="#ffefe8"/>
<rect x="490.63" y="241.07" width="17.87" height="15.56" fill="#fff5f0"/>
<rect x="490.63" y="256.33" width="17.87" height="3.35" fill="#ffefe8"/>
<rect x="490.63" y="259.38" width="17.87" height="21.66" fill="#fff5f0"/>
<rect x="490.63" y="280.74" width="17.87" height="3.35" fill="#ffeee6"/>
<rect x="490.63" y="283.79" width="17.87" height="30.81" fill="#fff5f0"/>
<rect x="508.20" y="180.05" width="17.87" height="43.02" fill="#fff5f0"/>
<rect x="508.20" y="222.77" width="17.87" height="3.35" fill="#ffefe8"/>
<rect x="508.20" y="225.82" width="17.87" height="30.81" fill="#fff5f0"/>
<rect x="508.20" y="256.33" width="17.87" height="3.35" fill="#ffefe8"/>
<rect x="508.20" y="259.38" width="17.87" height="21.66" fill="#fff5f0"/>
<rect x="508.20" y="280.74" width="17.87" height="3.35" fill="#ffeee6"/>
<rect x="508.20" y="283.79" width="17.87" height="9.45" fill="#fff5f0"/>
<rect x="508.20" y="292.94" width="17.87" height="3.35" fill="#ffefe8"/>
<rect x="508.20" y="295.99" width="17.87" height="18.61" fill="#fff5f0"/>
<rect x="525.78" y="180.05" width="17.87" height="134.55" fill="#fff5f0"/>
</g>
<rect x="279.75" y="180.05" width="263.60" height="134.25" fill="none" stroke="#a4a4a4" stroke-width="0.45"/>
<line x1="288.54" y1="179.25" x2="288.54" y2="180.05" stroke="#999" stroke-width="0.3"/>
<text class="tk" x="288.54" y="177.05" text-anchor="middle">2</text>
<line x1="306.11" y1="179.25" x2="306.11" y2="180.05" stroke="#999" stroke-width="0.3"/>
<text class="tk" x="306.11" y="177.05" text-anchor="middle">3</text>
<line x1="323.68" y1="179.25" x2="323.68" y2="180.05" stroke="#999" stroke-width="0.3"/>
<line x1="341.26" y1="179.25" x2="341.26" y2="180.05" stroke="#999" stroke-width="0.3"/>
<text class="tk" x="341.26" y="177.05" text-anchor="middle">4</text>
<line x1="358.83" y1="179.25" x2="358.83" y2="180.05" stroke="#999" stroke-width="0.3"/>
<text class="tk" x="358.83" y="177.05" text-anchor="middle">5</text>
<line x1="376.40" y1="179.25" x2="376.40" y2="180.05" stroke="#999" stroke-width="0.3"/>
<text class="tk" x="376.40" y="177.05" text-anchor="middle">6</text>
<line x1="393.98" y1="179.25" x2="393.98" y2="180.05" stroke="#999" stroke-width="0.3"/>
<line x1="411.55" y1="179.25" x2="411.55" y2="180.05" stroke="#999" stroke-width="0.3"/>
<text class="tk" x="411.55" y="177.05" text-anchor="middle">2</text>
<line x1="429.12" y1="179.25" x2="429.12" y2="180.05" stroke="#999" stroke-width="0.3"/>
<text class="tk" x="429.12" y="177.05" text-anchor="middle">8</text>
<line x1="446.70" y1="179.25" x2="446.70" y2="180.05" stroke="#999" stroke-width="0.3"/>
<text class="tk" x="446.70" y="177.05" text-anchor="middle">1</text>
<line x1="464.27" y1="179.25" x2="464.27" y2="180.05" stroke="#999" stroke-width="0.3"/>
<text class="tk" x="464.27" y="177.05" text-anchor="middle">5</text>
<line x1="481.84" y1="179.25" x2="481.84" y2="180.05" stroke="#999" stroke-width="0.3"/>
<line x1="499.42" y1="179.25" x2="499.42" y2="180.05" stroke="#999" stroke-width="0.3"/>
<line x1="516.99" y1="179.25" x2="516.99" y2="180.05" stroke="#999" stroke-width="0.3"/>
<line x1="534.56" y1="179.25" x2="534.56" y2="180.05" stroke="#999" stroke-width="0.3"/>
<line x1="278.95" y1="181.58" x2="279.75" y2="181.58" stroke="#999" stroke-width="0.3"/>
<text class="tl" transform="translate(277.25,181.58) rotate(-90)" text-anchor="middle" dy="0.65">1</text>
<line x1="278.95" y1="184.63" x2="279.75" y2="184.63" stroke="#999" stroke-width="0.3"/>
<text class="tl" transform="translate(277.25,184.63) rotate(-90)" text-anchor="middle" dy="0.65">2</text>
<line x1="278.95" y1="187.68" x2="279.75" y2="187.68" stroke="#999" stroke-width="0.3"/>
<text class="tl" transform="translate(277.25,187.68) rotate(-90)" text-anchor="middle" dy="0.65">3</text>
<line x1="278.95" y1="190.73" x2="279.75" y2="190.73" stroke="#999" stroke-width="0.3"/>
<line x1="278.95" y1="193.78" x2="279.75" y2="193.78" stroke="#999" stroke-width="0.3"/>
<text class="tl" transform="translate(277.25,193.78) rotate(-90)" text-anchor="middle" dy="0.65">5</text>
<line x1="278.95" y1="196.83" x2="279.75" y2="196.83" stroke="#999" stroke-width="0.3"/>
<text class="tl" transform="translate(277.25,196.83) rotate(-90)" text-anchor="middle" dy="0.65">6</text>
<line x1="278.95" y1="199.88" x2="279.75" y2="199.88" stroke="#999" stroke-width="0.3"/>
<text class="tl" transform="translate(277.25,199.88) rotate(-90)" text-anchor="middle" dy="0.65">7</text>
<line x1="278.95" y1="202.93" x2="279.75" y2="202.93" stroke="#999" stroke-width="0.3"/>
<text class="tl" transform="translate(277.25,202.93) rotate(-90)" text-anchor="middle" dy="0.65">8</text>
<line x1="278.95" y1="205.98" x2="279.75" y2="205.98" stroke="#999" stroke-width="0.3"/>
<text class="tl" transform="translate(277.25,205.98) rotate(-90)" text-anchor="middle" dy="0.65">9</text>
<line x1="278.95" y1="209.04" x2="279.75" y2="209.04" stroke="#999" stroke-width="0.3"/>
<line x1="278.95" y1="212.09" x2="279.75" y2="212.09" stroke="#999" stroke-width="0.3"/>
<text class="tl" transform="translate(277.25,212.09) rotate(-90)" text-anchor="middle" dy="0.65">11</text>
<line x1="278.95" y1="215.14" x2="279.75" y2="215.14" stroke="#999" stroke-width="0.3"/>
<text class="tl" transform="translate(277.25,215.14) rotate(-90)" text-anchor="middle" dy="0.65">12</text>
<line x1="278.95" y1="218.19" x2="279.75" y2="218.19" stroke="#999" stroke-width="0.3"/>
<text class="tl" transform="translate(277.25,218.19) rotate(-90)" text-anchor="middle" dy="0.65">13</text>
<line x1="278.95" y1="221.24" x2="279.75" y2="221.24" stroke="#999" stroke-width="0.3"/>
<text class="tl" transform="translate(277.25,221.24) rotate(-90)" text-anchor="middle" dy="0.65">14</text>
<line x1="278.95" y1="224.29" x2="279.75" y2="224.29" stroke="#999" stroke-width="0.3"/>
<text class="tl" transform="translate(277.25,224.29) rotate(-90)" text-anchor="middle" dy="0.65">15</text>
<line x1="278.95" y1="227.34" x2="279.75" y2="227.34" stroke="#999" stroke-width="0.3"/>
<text class="tl" transform="translate(277.25,227.34) rotate(-90)" text-anchor="middle" dy="0.65">16</text>
<line x1="278.95" y1="230.39" x2="279.75" y2="230.39" stroke="#999" stroke-width="0.3"/>
<text class="tl" transform="translate(277.25,230.39) rotate(-90)" text-anchor="middle" dy="0.65">17</text>
<line x1="278.95" y1="233.44" x2="279.75" y2="233.44" stroke="#999" stroke-width="0.3"/>
<text class="tl" transform="translate(277.25,233.44) rotate(-90)" text-anchor="middle" dy="0.65">18</text>
<line x1="278.95" y1="236.50" x2="279.75" y2="236.50" stroke="#999" stroke-width="0.3"/>
<line x1="278.95" y1="239.55" x2="279.75" y2="239.55" stroke="#999" stroke-width="0.3"/>
<text class="tl" transform="translate(277.25,239.55) rotate(-90)" text-anchor="middle" dy="0.65">20</text>
<line x1="278.95" y1="242.60" x2="279.75" y2="242.60" stroke="#999" stroke-width="0.3"/>
<text class="tl" transform="translate(277.25,242.60) rotate(-90)" text-anchor="middle" dy="0.65">21</text>
<line x1="278.95" y1="245.65" x2="279.75" y2="245.65" stroke="#999" stroke-width="0.3"/>
<line x1="278.95" y1="248.70" x2="279.75" y2="248.70" stroke="#999" stroke-width="0.3"/>
<text class="tl" transform="translate(277.25,248.70) rotate(-90)" text-anchor="middle" dy="0.65">23</text>
<line x1="278.95" y1="251.75" x2="279.75" y2="251.75" stroke="#999" stroke-width="0.3"/>
<text class="tl" transform="translate(277.25,251.75) rotate(-90)" text-anchor="middle" dy="0.65">24</text>
<line x1="278.95" y1="254.80" x2="279.75" y2="254.80" stroke="#999" stroke-width="0.3"/>
<text class="tl" transform="translate(277.25,254.80) rotate(-90)" text-anchor="middle" dy="0.65">25</text>
<line x1="278.95" y1="257.85" x2="279.75" y2="257.85" stroke="#999" stroke-width="0.3"/>
<text class="tl" transform="translate(277.25,257.85) rotate(-90)" text-anchor="middle" dy="0.65">26</text>
<line x1="278.95" y1="260.91" x2="279.75" y2="260.91" stroke="#999" stroke-width="0.3"/>
<text class="tl" transform="translate(277.25,260.91) rotate(-90)" text-anchor="middle" dy="0.65">27</text>
<line x1="278.95" y1="263.96" x2="279.75" y2="263.96" stroke="#999" stroke-width="0.3"/>
<text class="tl" transform="translate(277.25,263.96) rotate(-90)" text-anchor="middle" dy="0.65">28</text>
<line x1="278.95" y1="267.01" x2="279.75" y2="267.01" stroke="#999" stroke-width="0.3"/>
<text class="tl" transform="translate(277.25,267.01) rotate(-90)" text-anchor="middle" dy="0.65">29</text>
<line x1="278.95" y1="270.06" x2="279.75" y2="270.06" stroke="#999" stroke-width="0.3"/>
<text class="tl" transform="translate(277.25,270.06) rotate(-90)" text-anchor="middle" dy="0.65">30</text>
<line x1="278.95" y1="273.11" x2="279.75" y2="273.11" stroke="#999" stroke-width="0.3"/>
<text class="tl" transform="translate(277.25,273.11) rotate(-90)" text-anchor="middle" dy="0.65">31</text>
<line x1="278.95" y1="276.16" x2="279.75" y2="276.16" stroke="#999" stroke-width="0.3"/>
<text class="tl" transform="translate(277.25,276.16) rotate(-90)" text-anchor="middle" dy="0.65">32</text>
<line x1="278.95" y1="279.21" x2="279.75" y2="279.21" stroke="#999" stroke-width="0.3"/>
<text class="tl" transform="translate(277.25,279.21) rotate(-90)" text-anchor="middle" dy="0.65">33</text>
<line x1="278.95" y1="282.26" x2="279.75" y2="282.26" stroke="#999" stroke-width="0.3"/>
<text class="tl" transform="translate(277.25,282.26) rotate(-90)" text-anchor="middle" dy="0.65">34</text>
<line x1="278.95" y1="285.31" x2="279.75" y2="285.31" stroke="#999" stroke-width="0.3"/>
<text class="tl" transform="translate(277.25,285.31) rotate(-90)" text-anchor="middle" dy="0.65">35</text>
<line x1="278.95" y1="288.37" x2="279.75" y2="288.37" stroke="#999" stroke-width="0.3"/>
<text class="tl" transform="translate(277.25,288.37) rotate(-90)" text-anchor="middle" dy="0.65">36</text>
<line x1="278.95" y1="291.42" x2="279.75" y2="291.42" stroke="#999" stroke-width="0.3"/>
<text class="tl" transform="translate(277.25,291.42) rotate(-90)" text-anchor="middle" dy="0.65">37</text>
<line x1="278.95" y1="294.47" x2="279.75" y2="294.47" stroke="#999" stroke-width="0.3"/>
<text class="tl" transform="translate(277.25,294.47) rotate(-90)" text-anchor="middle" dy="0.65">38</text>
<line x1="278.95" y1="297.52" x2="279.75" y2="297.52" stroke="#999" stroke-width="0.3"/>
<text class="tl" transform="translate(277.25,297.52) rotate(-90)" text-anchor="middle" dy="0.65">39</text>
<line x1="278.95" y1="300.57" x2="279.75" y2="300.57" stroke="#999" stroke-width="0.3"/>
<text class="tl" transform="translate(277.25,300.57) rotate(-90)" text-anchor="middle" dy="0.65">40</text>
<line x1="278.95" y1="303.62" x2="279.75" y2="303.62" stroke="#999" stroke-width="0.3"/>
<text class="tl" transform="translate(277.25,303.62) rotate(-90)" text-anchor="middle" dy="0.65">41</text>
<line x1="278.95" y1="306.67" x2="279.75" y2="306.67" stroke="#999" stroke-width="0.3"/>
<text class="tl" transform="translate(277.25,306.67) rotate(-90)" text-anchor="middle" dy="0.65">42</text>
<line x1="278.95" y1="309.72" x2="279.75" y2="309.72" stroke="#999" stroke-width="0.3"/>
<line x1="278.95" y1="312.77" x2="279.75" y2="312.77" stroke="#999" stroke-width="0.3"/>
<rect x="515.6" y="13.95" width="14.60" height="7.43" fill="#67000d"/>
<text x="532.0" y="18.87" font-size="4" letter-spacing="0.65" font-weight="bold" fill="#222">1.0</text>
<rect x="515.6" y="21.08" width="14.60" height="7.43" fill="#960b17"/>
<text x="532.0" y="26.00" font-size="4" letter-spacing="0.65" font-weight="bold" fill="#222">0.9</text>
<rect x="515.6" y="28.21" width="14.60" height="7.43" fill="#b8111d"/>
<text x="532.0" y="33.13" font-size="4" letter-spacing="0.65" font-weight="bold" fill="#222">0.8</text>
<rect x="515.6" y="35.35" width="14.60" height="7.43" fill="#c83640"/>
<text x="532.0" y="40.26" font-size="4" letter-spacing="0.65" font-weight="bold" fill="#222">0.7</text>
<rect x="515.6" y="42.48" width="14.60" height="7.43" fill="#cf5560"/>
<text x="532.0" y="47.39" font-size="4" letter-spacing="0.65" font-weight="bold" fill="#222">0.6</text>
<rect x="515.6" y="49.61" width="14.60" height="7.43" fill="#d6737c"/>
<text x="532.0" y="54.52" font-size="4" letter-spacing="0.65" font-weight="bold" fill="#222">0.5</text>
<rect x="515.6" y="56.74" width="14.60" height="7.43" fill="#dd9097"/>
<text x="532.0" y="61.66" font-size="4" letter-spacing="0.65" font-weight="bold" fill="#222">0.4</text>
<rect x="515.6" y="63.87" width="14.60" height="7.43" fill="#e5adb2"/>
<text x="532.0" y="68.79" font-size="4" letter-spacing="0.65" font-weight="bold" fill="#222">0.3</text>
<rect x="515.6" y="71.00" width="14.60" height="7.43" fill="#edc8ca"/>
<text x="532.0" y="75.92" font-size="4" letter-spacing="0.65" font-weight="bold" fill="#222">0.2</text>
<rect x="515.6" y="78.14" width="14.60" height="7.43" fill="#f6e2e1"/>
<text x="532.0" y="83.05" font-size="4" letter-spacing="0.65" font-weight="bold" fill="#222">0.1</text>
<rect x="515.6" y="85.27" width="14.60" height="7.43" fill="#ffffff"/>
<text x="532.0" y="90.18" font-size="4" letter-spacing="0.65" font-weight="bold" fill="#222">0.0</text>
<rect x="515.6" y="13.95" width="14.60" height="78.45" fill="none" stroke="#3a2020" stroke-width="0.4"/>
<text class="cap" x="117.6" y="159.5" textLength="13.7" lengthAdjust="spacing"><tspan class="pp">(</tspan><tspan class="bl">a</tspan><tspan class="pp">)</tspan></text>
<text class="cap cs" x="134.6" y="159.5" textLength="26.8" lengthAdjust="spacingAndGlyphs">LSTM</text>
<text class="cap" x="386.0" y="159.5" textLength="15.1" lengthAdjust="spacing"><tspan class="pp">(</tspan><tspan class="bl">b</tspan><tspan class="pp">)</tspan></text>
<text class="cap cs" x="405.0" y="159.5" textLength="28.4" lengthAdjust="spacingAndGlyphs">FCNN</text>
<text class="cap" x="125.6" y="329.7" textLength="13.5" lengthAdjust="spacing"><tspan class="pp">(</tspan><tspan class="bl">c</tspan><tspan class="pp">)</tspan></text>
<text class="cap cs" x="141.8" y="329.7" textLength="11.6" lengthAdjust="spacingAndGlyphs">FE</text>
<text class="cap" x="391.6" y="329.7" textLength="15.6" lengthAdjust="spacing"><tspan class="pp">(</tspan><tspan class="bl">d</tspan><tspan class="pp">)</tspan></text>
<text class="cap cs" x="409.8" y="329.7" textLength="18.1" lengthAdjust="spacingAndGlyphs">CFE</text>
</svg></body></html>
